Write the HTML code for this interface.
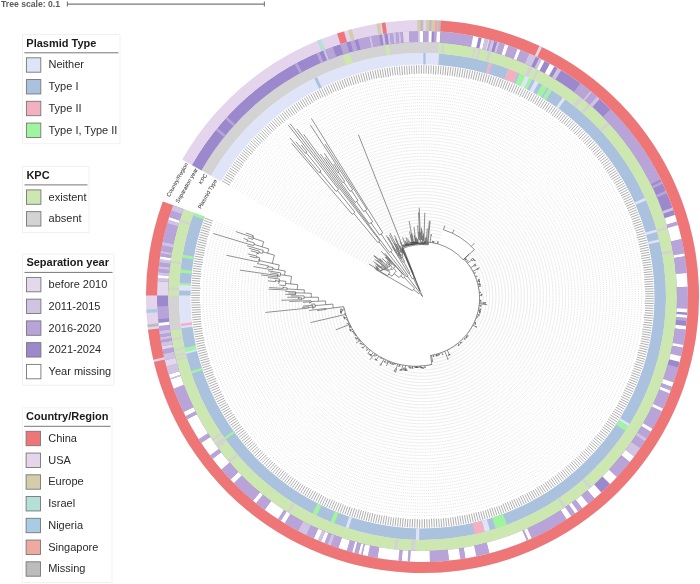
<!DOCTYPE html>
<html><head><meta charset="utf-8"><title>Phylogenetic tree</title>
<style>
html,body{margin:0;padding:0;background:#fff;}
body{width:700px;height:584px;overflow:hidden;}
svg{display:block;font-family:"Liberation Sans",Arial,sans-serif;}
.lt{font-size:11px;font-weight:bold;fill:#1a1a1a;}
.li{font-size:11px;fill:#2a2a2a;}
.ts{font-size:8.65px;font-weight:bold;fill:#5a5a5a;}
.ds{font-size:5.5px;fill:#222;}
</style></head><body>
<svg width="700" height="584" viewBox="0 0 700 584">
<text class="ts" x="1" y="6.9">Tree scale: 0.1</text>
<path d="M67.4 4.1H264.4M67.4 1.6V6.6M264.4 1.6V6.6M166 3.4V4.8" stroke="#7a7a7a" stroke-width="1.1" fill="none"/>
<defs><radialGradient id="dg" gradientUnits="userSpaceOnUse" cx="422.5" cy="296.5" r="221"><stop offset="0.25" stop-color="#e4e4e4"/><stop offset="0.55" stop-color="#d8d8d8"/><stop offset="1" stop-color="#cdcdcd"/></radialGradient></defs>
<path d="M373.09 267.97L231.12 185.98M370.67 265.83L232.3 183.96M365.57 261.99L233.51 181.94M374.02 266.4L234.74 179.94M374.35 265.89L235.99 177.94M372.02 263.65L237.26 175.97M380.28 268.39L238.55 174M375.35 264.37L239.87 172.05M373.09 262.06L241.2 170.12M370.88 259.69L242.56 168.2M381.52 266.62L243.93 166.29M379.3 264.29L245.33 164.4M382.16 265.75L246.74 162.52M372.49 257.53L248.18 160.66M375.39 258.98L249.63 158.82M383.16 264.48L251.1 156.98M371.32 253.93L252.6 155.17M371.78 253.39L254.11 153.37M377.03 257.01L255.64 151.59M377.45 256.52L257.19 149.82M384.92 262.44L258.76 148.07M387.61 264.19L260.35 146.34M381.05 257.29L261.96 144.62M386.03 261.25L263.58 142.92M386.4 260.87L265.22 141.24M384.55 258.24L266.88 139.58M387.17 260.11L268.56 137.93M383.19 255.14L270.26 136.3M383.63 254.72L271.97 134.69M379.81 249.62L273.7 133.1M384.53 253.91L275.45 131.53M382.9 251.12L277.21 129.97M290.75 142.22L278.99 128.44M288.34 135.96L280.78 126.92M294.07 139.45L282.59 125.42M299.7 143.04L284.42 123.94M295.16 126.52L290 119.63M302.59 132.84L291.89 118.23M319.11 152.19L293.79 116.85M324.29 156.3L295.71 115.49M322.2 150.03L297.64 114.15M332.58 162.14L299.59 112.83M309.73 124.05L301.55 111.54M323.52 141.56L303.52 110.26M310.07 116.31L305.51 109.01M391.16 245.07L307.51 107.77M385.23 233.84L309.52 106.56M385.9 233.44L311.55 105.37M395.94 249.61L313.59 104.2M394.91 246.55L315.64 103.05M387.93 232.31L317.7 101.93M393.03 240.36L319.78 100.82M389.3 231.59L321.87 99.74M395.65 242.59L323.96 98.68M398.99 248.01L326.07 97.65M394.09 236.3L328.19 96.63M393.41 233.12L330.32 95.64M397.96 241.49L332.47 94.67M401.07 247.05L334.62 93.73M400.37 243.91L336.78 92.8M398.53 237.81L338.95 91.9M357.14 131.45L341.13 91.02M402.06 243.23L343.32 90.17M402.62 243.01L345.52 89.34M403.19 242.81L347.73 88.53M403.77 242.6L349.94 87.75M401.31 233.39L352.17 86.99M404.92 242.22L354.4 86.25M404.55 239.01L356.64 85.54M405.16 238.82L358.89 84.85M406.66 241.68L361.14 84.19M405.55 235.41L363.4 83.55M407.83 241.36L365.67 82.93M406.85 235.06L367.95 82.34M409 241.06L370.23 81.77M408.88 237.83L372.51 81.23M410.19 240.78L374.81 80.71M410.13 237.55L377.1 80.21M408.9 228.1L379.41 79.74M410.21 231.07L381.72 79.3M408.7 218.46L384.03 78.87M411.61 230.83L386.34 78.48M413.76 240.11L388.67 78.11M414.36 240.02L390.99 77.76M414.13 233.66L393.32 77.44M413.64 224.13L395.65 77.14M415.47 233.49L397.98 76.86M416.14 233.42L400.32 76.62M417.09 236.51L402.66 76.39M417.73 236.46L405 76.19M417.5 223.76L407.35 76.02M418.64 230.04L409.69 75.87M418.45 211.01L412.04 75.75M419.13 204.63L414.39 75.65M420.76 229.95L416.74 75.58M421.37 223.6L419.09 75.53M422.17 226.76L421.44 75.5M422.87 233.1L423.79 75.5M423.6 229.94L426.14 75.53M424.82 210.94L428.49 75.58M424.65 239.48L430.84 75.66M425.41 236.34L433.19 75.76M426.24 233.21L435.54 75.88M427.35 226.93L437.88 76.04M427.33 236.46L440.22 76.21M429.7 217.58L442.57 76.41M430.53 217.66L444.91 76.64M428.89 239.8L447.24 76.89M429.49 239.87L449.58 77.17M431.36 230.52L451.91 77.47M432.06 230.62L454.24 77.79M431.29 240.12L456.56 78.14M431.89 240.22L458.88 78.52M433.05 237.2L461.2 78.91M433.68 237.32L463.51 79.34M434.31 237.44L465.82 79.79M434.93 237.57L468.12 80.26M434.87 240.8L470.42 80.76M435.46 240.93L472.71 81.28M436.05 241.07L475 81.83M436.64 241.22L477.28 82.4M437.23 241.37L479.55 82.99M438.67 238.48L481.82 83.61M439.28 238.66L484.08 84.25M438.98 241.87L486.33 84.92M445.25 223.9L488.58 85.61M445.04 227.16L490.82 86.32M445.77 227.4L493.05 87.06M446.51 227.66L495.27 87.83M447.24 227.92L497.49 88.61M447.97 228.18L499.69 89.42M448.69 228.46L501.89 90.25M449.41 228.74L504.08 91.11M450.13 229.03L506.26 91.99M450.85 229.33L508.43 92.89M451.56 229.63L510.59 93.82M452.27 229.95L512.74 94.76M452.98 230.27L514.88 95.74M455.04 227.73L517.01 96.73M454.38 230.93L519.13 97.75M455.08 231.27L521.24 98.79M455.77 231.62L523.34 99.85M456.46 231.98L525.42 100.93M457.14 232.34L527.5 102.04M457.82 232.72L529.56 103.16M458.5 233.1L531.61 104.31M459.17 233.48L533.65 105.48M459.84 233.88L535.67 106.68M460.5 234.28L537.69 107.89M461.16 234.68L539.69 109.13M461.82 235.1L541.67 110.38M462.47 235.52L543.65 111.66M463.11 235.95L545.6 112.96M463.76 236.38L547.55 114.28M464.39 236.83L549.48 115.62M465.02 237.28L551.4 116.98M465.65 237.73L553.3 118.36M466.27 238.19L555.19 119.76M466.89 238.66L557.06 121.19M467.5 239.14L558.92 122.63M468.11 239.62L560.76 124.09M468.71 240.11L562.58 125.57M469.31 240.6L564.39 127.07M469.9 241.1L566.19 128.59M470.49 241.61L567.96 130.12M471.07 242.12L569.73 131.68M471.65 242.64L571.47 133.26M472.22 243.17L573.2 134.85M472.78 243.7L574.91 136.46M475.55 241.97L576.6 138.09M473.89 244.78L578.28 139.74M474.44 245.33L579.94 141.4M474.98 245.89L581.58 143.09M475.52 246.45L583.2 144.79M476.05 247.02L584.81 146.51M471.87 251.84L586.39 148.24M467.59 256.57L587.96 149.99M468.02 257.05L589.51 151.76M468.43 257.54L591.04 153.55M468.84 258.03L592.55 155.35M469.25 258.53L594.04 157.16M469.65 259.03L595.51 158.99M470.05 259.53L596.97 160.84M475.48 256.2L598.4 162.71M475.91 256.76L599.81 164.58M476.33 257.33L601.2 166.48M476.74 257.91L602.58 168.39M477.15 258.49L603.93 170.31M477.55 259.07L605.26 172.24M472.67 263.17L606.57 174.2M473.02 263.7L607.86 176.16M473.36 264.24L609.13 178.14M479.09 261.45L610.38 180.13M479.46 262.05L611.61 182.13M477.1 264.27L612.81 184.15M480.18 263.27L614 186.18M475.01 266.99L615.16 188.23M475.32 267.55L616.3 190.28M475.62 268.12L617.42 192.35M475.92 268.68L618.52 194.43M481.87 266.38L619.59 196.52M482.18 267.02L620.64 198.62M476.78 270.4L621.67 200.73M477.06 270.98L622.68 202.86M477.32 271.56L623.66 204.99M477.59 272.15L624.63 207.14M477.84 272.73L625.57 209.29M478.09 273.32L626.48 211.45M478.34 273.91L627.37 213.63M478.57 274.51L628.24 215.81M478.8 275.11L629.09 218.01M479.03 275.71L629.91 220.21M479.25 276.31L630.71 222.42M479.46 276.91L631.49 224.64M479.66 277.52L632.24 226.86M479.86 278.13L632.97 229.1M483.08 277.81L633.68 231.34M483.28 278.45L634.36 233.59M483.47 279.1L635.01 235.85M483.65 279.75L635.65 238.11M483.82 280.4L636.26 240.38M483.99 281.05L636.84 242.66M481.07 282.45L637.4 244.94M484.3 282.37L637.94 247.23M484.45 283.02L638.45 249.52M484.59 283.68L638.94 251.82M484.72 284.34L639.4 254.13M481.73 285.58L639.84 256.44M481.84 286.21L640.25 258.75M481.95 286.84L640.64 261.07M482.05 287.48L641.01 263.39M482.14 288.11L641.35 265.72M482.23 288.74L641.66 268.04M482.31 289.38L641.95 270.38M482.38 290.02L642.22 272.71M482.45 290.65L642.46 275.05M482.5 291.29L642.67 277.39M482.56 291.93L642.86 279.73M482.6 292.57L643.03 282.08M482.64 293.21L643.17 284.43M485.84 293.71L643.29 286.77M485.86 294.38L643.38 289.12M485.88 295.06L643.44 291.47M485.9 295.73L643.48 293.82M482.73 296.41L643.5 296.17M482.73 297.05L643.49 298.52M482.72 297.69L643.46 300.87M482.7 298.33L643.4 303.22M482.68 298.97L643.31 305.57M482.65 299.61L643.2 307.92M482.61 300.25L643.07 310.27M482.57 300.89L642.91 312.61M482.52 301.53L642.73 314.95M488.77 302.76L642.52 317.3M488.7 303.47L642.29 319.63M488.63 304.17L642.03 321.97M488.54 304.88L641.74 324.3M482.17 304.71L641.44 326.63M485.21 305.81L641.1 328.96M485.11 306.48L640.75 331.28M485 307.14L640.36 333.6M481.76 307.24L639.96 335.92M481.65 307.87L639.52 338.23M481.52 308.5L639.07 340.54M484.49 309.79L638.59 342.84M484.35 310.45L638.08 345.13M484.19 311.11L637.55 347.42M484.04 311.76L637 349.71M483.87 312.42L636.42 351.98M483.7 313.07L635.82 354.26M483.52 313.72L635.19 356.52M483.33 314.37L634.54 358.78M480.11 314.09L633.87 361.03M482.94 315.66L633.17 363.28M482.73 316.3L632.45 365.51M482.52 316.94L631.7 367.74M479.3 316.52L630.93 369.96M482.07 318.21L630.14 372.18M481.83 318.84L629.32 374.38M478.64 318.32L628.48 376.58M478.4 318.92L627.62 378.76M478.16 319.51L626.73 380.94M477.91 320.1L625.82 383.11M477.66 320.69L624.89 385.26M477.4 321.28L623.94 387.41M477.13 321.86L622.96 389.55M476.86 322.44L621.96 391.68M479.43 324.41L620.93 393.79M479.13 325.01L619.89 395.9M478.82 325.62L618.82 397.99M478.51 326.21L617.73 400.07M475.4 325.29L616.61 402.14M480.63 328.94L615.48 404.2M480.28 329.56L614.32 406.25M474.46 326.96L613.15 408.28M474.13 327.52L611.95 410.3M473.8 328.06L610.72 412.31M473.46 328.61L609.48 414.31M473.11 329.15L608.22 416.29M472.76 329.68L606.93 418.26M472.41 330.22L605.63 420.21M472.05 330.74L604.3 422.15M471.68 331.27L602.96 424.08M471.31 331.79L601.59 425.99M470.93 332.31L600.2 427.89M470.55 332.82L598.79 429.77M470.16 333.33L597.37 431.64M469.76 333.83L595.92 433.49M469.36 334.34L594.45 435.33M468.96 334.83L592.97 437.15M468.55 335.32L591.46 438.95M470.53 337.88L589.94 440.74M470.09 338.39L588.39 442.52M469.64 338.89L586.83 444.27M469.19 339.39L585.25 446.01M468.73 339.89L583.65 447.73M468.27 340.37L582.03 449.44M467.8 340.86L580.4 451.13M467.32 341.34L578.74 452.8M466.84 341.81L577.07 454.45M464.17 339.99L575.38 456.09M463.7 340.43L573.68 457.7M463.23 340.87L571.95 459.3M462.76 341.3L570.21 460.88M462.28 341.73L568.46 462.44M463.86 344.55L566.68 463.99M463.35 344.99L564.9 465.51M462.83 345.42L563.09 467.02M462.31 345.84L561.27 468.5M459.82 343.78L559.43 469.97M461.25 346.68L557.58 471.41M460.72 347.09L555.71 472.84M460.17 347.49L553.83 474.25M459.63 347.89L551.93 475.63M459.08 348.28L550.02 477M458.53 348.67L548.09 478.35M456.2 346.42L546.15 479.67M455.67 346.78L544.19 480.98M456.85 349.79L542.22 482.26M454.59 347.47L540.24 483.52M454.04 347.81L538.25 484.77M455.13 350.86L536.24 485.99M454.55 351.2L534.22 487.18M453.97 351.54L532.18 488.36M451.83 349.1L530.13 489.52M452.79 352.2L528.08 490.65M452.19 352.52L526 491.76M451.6 352.83L523.92 492.85M451 353.14L521.83 493.92M450.39 353.44L519.72 494.97M451.15 356.59L517.61 495.99M450.51 356.89L515.48 496.99M449.86 357.19L513.34 497.97M449.22 357.47L511.19 498.92M447.33 354.84L509.04 499.85M449.12 360.96L506.87 500.76M448.44 361.24L504.69 501.65M445.45 355.6L502.5 502.51M444.82 355.84L500.31 503.35M444.19 356.07L498.1 504.17M443.55 356.3L495.89 504.96M442.92 356.52L493.67 505.73M442.28 356.74L491.44 506.47M441.64 356.94L489.2 507.19M440.99 357.14L486.96 507.89M440.35 357.34L484.71 508.56M439.7 357.52L482.45 509.21M439.05 357.7L480.18 509.84M438.4 357.87L477.91 510.44M437.74 358.04L475.63 511.02M437.09 358.2L473.35 511.57M436.43 358.35L471.06 512.1M435.77 358.5L468.76 512.6M435.11 358.63L466.46 513.08M434.45 358.76L464.15 513.54M433.79 358.89L461.84 513.97M433.12 359L459.53 514.38M433.45 365.37L457.21 514.76M432.72 365.49L454.89 515.11M432.42 368.73L452.56 515.45M431.65 368.83L450.23 515.75M430.88 368.93L447.9 516.04M430.11 369.01L445.56 516.29M429.34 369.09L443.22 516.53M428.56 369.16L440.88 516.73M427.79 369.22L438.54 516.92M427.02 369.27L436.19 517.08M426.24 369.31L433.84 517.21M425.47 369.35L431.5 517.32M424.69 369.38L429.15 517.4M423.98 372.57L426.8 517.46M423.17 372.58L424.45 517.49M422.36 372.58L422.1 517.5M421.55 372.57L419.75 517.48M420.74 372.56L417.39 517.44M420.04 369.37L415.05 517.37M419.27 369.34L412.7 517.28M418.49 369.3L410.35 517.17M417.51 372.42L408 517.02M416.7 372.36L405.66 516.86M415.9 372.29L403.32 516.67M415.09 372.22L400.97 516.45M414.63 368.98L398.64 516.21M413.86 368.9L396.3 515.94M412.68 371.94L393.97 515.65M411.88 371.83L391.64 515.33M411.08 371.72L389.31 514.99M410.28 371.59L386.99 514.63M409.48 371.46L384.67 514.24M408.68 371.31L382.36 513.82M407.89 371.16L380.05 513.39M406.45 374.11L377.75 512.92M405.63 373.93L375.45 512.43M404.8 373.75L373.15 511.92M403.98 373.56L370.87 511.38M403.17 373.36L368.58 510.82M402.35 373.15L366.31 510.24M401.54 372.93L364.04 509.63M400.72 372.7L361.77 508.99M399.91 372.46L359.52 508.34M399.11 372.22L357.27 507.65M399.27 368.95L355.03 506.95M398.5 368.7L352.79 506.22M397.74 368.44L350.56 505.46M394.84 374.14L348.35 504.69M394.02 373.84L346.14 503.89M393.2 373.54L343.93 503.06M394.7 367.32L341.74 502.22M393.95 367.02L339.56 501.35M393.2 366.71L337.38 500.45M392.45 366.4L335.22 499.53M391.71 366.07L333.07 498.6M390.97 365.74L330.92 497.63M390.24 365.4L328.79 496.65M389.51 365.05L326.66 495.64M388.78 364.7L324.55 494.61M388.06 364.34L322.45 493.56M384.41 369.59L320.36 492.48M385.13 366.38L318.28 491.38M385.91 363.2L316.21 490.26M383.65 365.57L314.16 489.12M382.92 365.16L312.12 487.96M382.19 364.73L310.09 486.77M379.82 367.01L308.07 485.57M379.08 366.55L306.07 484.34M381.73 360.73L304.07 483.09M381.05 360.3L302.1 481.82M378.62 362.49L300.13 480.53M379.7 359.4L298.18 479.22M379.04 358.94L296.25 477.89M374.7 363.64L294.32 476.53M373.99 363.13L292.42 475.16M373.28 362.61L290.52 473.77M372.58 362.08L288.64 472.35M373.83 359.05L286.78 470.92M373.17 358.52L284.93 469.46M372.51 358L283.1 467.99M367.81 362.34L281.29 466.5M369.16 359.34L279.49 464.99M368.5 358.77L277.7 463.46M367.84 358.19L275.94 461.91M367.19 357.6L274.18 460.34M366.54 357.01L272.45 458.75M365.9 356.41L270.73 457.15M365.27 355.81L269.03 455.52M366.86 352.94L267.35 453.88M366.27 352.34L265.69 452.22M363.4 353.95L264.04 450.55M362.8 353.32L262.41 448.85M364.51 350.52L260.8 447.14M363.94 349.9L259.2 445.41M363.38 349.27L257.63 443.67M360.43 350.73L256.07 441.91M359.86 350.07L254.54 440.13M359.29 349.4L253.02 438.33M361.19 346.71L251.52 436.52M360.66 346.06L250.04 434.7M360.13 345.4L248.58 432.86M357.1 346.66L247.14 431M356.57 345.96L245.72 429.13M358.6 343.38L244.32 427.24M358.11 342.7L242.94 425.34M355.03 343.83L241.58 423.42M357.14 341.32L240.24 421.49M356.67 340.62L238.92 419.54M353.55 341.66L237.62 417.58M353.07 340.92L236.34 415.61M352.61 340.18L235.09 413.62M352.15 339.43L233.85 411.62M354.42 337.06L232.64 409.61M353.99 336.33L231.45 407.58M350.81 337.17L230.28 405.55M350.38 336.4L229.13 403.49M349.96 335.63L228 401.43M349.55 334.86L226.89 399.36M349.15 334.08L225.81 397.27M348.75 333.3L224.75 395.17M348.36 332.51L223.71 393.06M347.99 331.72L222.7 390.94M347.61 330.93L221.7 388.81M347.25 330.13L220.73 386.67M346.9 329.33L219.79 384.52M346.55 328.52L218.86 382.36M346.22 327.71L217.96 380.19M345.89 326.9L217.08 378.01M333.74 330.63L216.23 375.82M345.26 325.26L215.39 373.62M344.96 324.44L214.59 371.42M344.67 323.61L213.8 369.2M344.38 322.78L213.04 366.98M344.11 321.95L212.3 364.74M343.84 321.12L211.59 362.51M343.58 320.28L210.9 360.26M340.29 320.32L210.23 358M340.04 319.44L209.59 355.74M339.8 318.57L208.97 353.48M339.57 317.68L208.38 351.2M342.43 316.05L207.81 348.92M308.27 323.11L207.26 346.63M342.03 314.34L206.74 344.34M338.75 314.14L206.24 342.04M338.56 313.25L205.77 339.74M338.39 312.35L205.32 337.43M338.23 311.46L204.9 335.12M338.07 310.56L204.5 332.81M337.93 309.66L204.13 330.49M340.93 308.31L203.78 328.16M315.67 310.81L203.46 325.83M306.09 310.83L203.16 323.5M309.09 309.24L202.88 321.17M261.66 312.84L202.63 318.83M299.38 307.68L202.41 316.49M299.26 306.37L202.21 314.15M308.65 304.4L202.03 311.8M305.41 303.38L201.88 309.46M299.01 302.44L201.75 307.11M286.29 301.6L201.65 304.76M279.9 300.32L201.58 302.41M295.72 298.54L201.53 300.06M283.02 297.27L201.5 297.71M289.36 295.82L201.5 295.36M283.04 294.3L201.53 293.01M286.24 292.9L201.58 290.66M283.12 291.33L201.65 288.31M267.35 289.1L201.75 285.96M267.43 287.45L201.88 283.62M280.19 286.67L202.03 281.27M277.14 284.91L202.2 278.93M274.12 283.07L202.4 276.59M264.81 280.54L202.62 274.25M271.28 279.57L202.87 271.91M265.18 277.19L203.15 269.57M259.11 274.68L203.45 267.24M237.39 269.77L203.77 264.91M269.01 272.67L204.12 262.59M266.14 270.52L204.49 260.27M250.82 266.09L204.89 257.95M263.62 266.61L205.31 255.64M254.62 263.06L205.76 253.33M223.96 254.76L206.23 251.03M255.37 259.5L206.72 248.73M246.51 255.57L207.24 246.44M243.87 252.95L207.79 244.15M253.56 253.4L208.36 241.87M247.9 249.98L208.95 239.6M245.35 247.27L209.57 237.33M242.84 244.51L210.21 235.07M243.99 240.7L211.56 230.57M241.58 237.83L212.28 228.33M245.21 236.92L213.01 226.1M233.88 230.87L213.77 223.87M243.54 232.09L214.56 221.66" stroke="url(#dg)" stroke-width="0.6" stroke-dasharray="1 2.17" fill="none"/>
<path d="M412.54 290.75L375.61 269.42M387.55 275.82L374.24 267.94M378.19 269.64L368.94 264.03M378.06 268.91L376.3 267.82M377.41 267.84L375.96 266.92M377.72 267.36L375.08 265.65M377.41 267.84A53.43 53.43 0 0 1 377.72 267.36M378.51 268.2L377.56 267.6M378.06 268.91A52.31 52.31 0 0 1 378.51 268.2M378.7 268.82L378.28 268.56M378.19 269.64A51.81 51.81 0 0 1 378.7 268.82M381.28 270.98L378.45 269.23M382.15 269.63L381.45 269.16M381.28 270.98A48.48 48.48 0 0 1 382.15 269.63M382.01 270.5L381.71 270.3M380.71 268.03L376.87 265.41M381.02 267.58L375.46 263.71M380.71 268.03A50.57 50.57 0 0 1 381.02 267.58M382.88 269.19L380.87 267.8M382.01 270.5A48.12 48.12 0 0 1 382.88 269.19M382.9 270.15L382.44 269.84M383.77 268.88L373.42 261.51M382.9 270.15A47.57 47.57 0 0 1 383.77 268.88M384.08 270.03L383.33 269.51M384.8 269.01L383.96 268.4M384.08 270.03A46.66 46.66 0 0 1 384.8 269.01M385.37 270.18L384.43 269.52M386.02 269.3L381.24 265.74M385.37 270.18A45.51 45.51 0 0 1 386.02 269.3M387.54 271.08L385.69 269.74M388.12 270.3L384.62 267.62M387.54 271.08A43.22 43.22 0 0 1 388.12 270.3M389.93 272.25L387.83 270.69M387.55 275.82A40.61 40.61 0 0 1 389.93 272.25M392.09 276.27L388.69 274M385.54 267.7L374.72 259.27M385.84 267.31L376.75 260.07M385.54 267.7A46.86 46.86 0 0 1 385.84 267.31M389.41 270.43L385.69 267.5M387.24 267.8L386.24 266.98M386.31 266.4L373.54 255.78M380.63 260.91L374.22 255.46M381.01 260.47L378.88 258.62M380.63 260.91A54.95 54.95 0 0 1 381.01 260.47M382.18 261.86L380.82 260.69M382.74 261.22L379.8 258.62M382.18 261.86A53.16 53.16 0 0 1 382.74 261.22M386.42 265L382.46 261.54M387.01 264.33L386.32 263.7M386.42 265A47.9 47.9 0 0 1 387.01 264.33M387.33 265.21L386.71 264.66M386.31 266.4A47.07 47.07 0 0 1 387.33 265.21M388.04 266.85L386.82 265.8M387.24 267.8A45.46 45.46 0 0 1 388.04 266.85M388.02 267.64L387.64 267.32M388.94 265.42L388.5 265.01M388.81 264.63L382.17 258.35M389.15 264.27L388.65 263.79M388.81 264.63A46.37 46.37 0 0 1 389.15 264.27M389.1 264.56L388.98 264.45M388.6 263.03L387.33 261.78M388.95 262.67L387.04 260.75M388.6 263.03A47.64 47.64 0 0 1 388.95 262.67M389.66 263.74L388.78 262.85M390.19 263.22L389.77 262.79M389.66 263.74A46.38 46.38 0 0 1 390.19 263.22M390.05 263.6L389.93 263.48M389.1 264.56A46.21 46.21 0 0 1 390.05 263.6M389.9 264.41L389.57 264.08M388.94 265.42A45.74 45.74 0 0 1 389.9 264.41M389.98 265.44L389.42 264.91M388.02 267.64A44.97 44.97 0 0 1 389.98 265.44M389.37 266.87L388.98 266.53M391.88 264.28L385.06 257.1M389.37 266.87A44.45 44.45 0 0 1 391.88 264.28M392.26 267.17L390.6 265.55M389.41 270.43A42.12 42.12 0 0 1 392.26 267.17M392.04 269.85L390.8 268.76M390.27 261.86L385.77 257.02M390.64 261.52L381.32 251.28M390.27 261.86A47.31 47.31 0 0 1 390.64 261.52M395.09 266.72L390.46 261.69M392.04 269.85A40.48 40.48 0 0 1 395.09 266.72M396.35 271L393.52 268.24M392.09 276.27A36.52 36.52 0 0 1 396.35 271M399.11 277.58L394.1 273.54M402.48 274.04L385.67 255.19M399.11 277.58A30.08 30.08 0 0 1 402.48 274.04M403.34 278.24L400.72 275.75M405.1 276.56L384.68 253.15M403.34 278.24A26.47 26.47 0 0 1 405.1 276.56M414.55 288.19L404.2 277.38M412.54 290.75A11.5 11.5 0 0 1 414.55 288.19M419.35 294.03L413.46 289.4M305.38 153.29A185 185 0 0 1 306.91 152.05M305.38 153.29L295.83 141.61M306.91 152.05L301.18 144.89M319.03 172.69A161.36 161.36 0 0 1 321.02 171.05M319.03 172.69L289.85 137.77M321.02 171.05L306.15 152.67M336.09 191.41A136.05 136.05 0 0 1 338.63 189.37M338.63 189.37L288.16 124.91M336.09 191.41L320.02 171.86M352.41 214.42A107.94 107.94 0 0 1 354.95 212.31M352.41 214.42L291.66 143.27M354.95 212.31L337.36 190.39M377.86 242.58A70 70 0 0 1 379.94 240.93M379.94 240.93L290.03 123.54M377.86 242.58L353.67 213.36M337.75 172.73A150 150 0 0 1 339.07 171.84M337.75 172.73L324.31 153.11M339.07 171.84L333.75 163.89M342.77 182.67A138.98 138.98 0 0 1 344.59 181.41M342.77 182.67L325.01 157.32M344.59 181.41L338.41 172.29M350.14 191.42A127.58 127.58 0 0 1 352.67 189.72M352.67 189.72L310.41 125.09M350.14 191.42L343.68 182.04M355.11 202.44A115.71 115.71 0 0 1 358.01 200.42M355.11 202.44L320.29 153.84M358.01 200.42L351.4 190.57M363.67 211.67A103.23 103.23 0 0 1 366.92 209.5M366.92 209.5L325.04 143.95M363.67 211.67L356.55 201.42M369.38 224A89.87 89.87 0 0 1 372.69 221.69M369.38 224L303.7 134.36M372.69 221.69L365.28 210.57M379.53 235A75.03 75.03 0 0 1 382.78 232.85M382.78 232.85L311.32 118.31M379.53 235L371.02 222.83M389.52 252.48A55 55 0 0 1 392.18 250.61M389.52 252.48L296.82 128.74M392.18 250.61L381.14 233.9M406.93 276.94A25 25 0 0 1 408.11 276.06M406.93 276.94L378.89 241.74M408.11 276.06L390.84 251.53M422.5 296.5L407.51 276.49M408.37 273.31L392.06 246.54M396.38 252.58L386.16 235.41M396.84 252.3L388.04 237.14M396.38 252.58A51.1 51.1 0 0 1 396.84 252.3M398.54 255.73L396.61 252.44M399.2 255.36L397.85 252.98M398.54 255.73A47.28 47.28 0 0 1 399.2 255.36M400.79 258.88L398.87 255.54M401.5 258.48L396.09 248.7M400.79 258.88A43.44 43.44 0 0 1 401.5 258.48M403.14 262.21L401.14 258.68M401.53 257.57L389.29 234.85M400.92 255.38L394.45 243.07M398.42 249.43L389.91 232.78M398.93 249.17L396.31 243.92M398.42 249.43A52.87 52.87 0 0 1 398.93 249.17M399.85 251.63L398.67 249.3M400.57 251.27L399.98 250.06M399.85 251.63A50.26 50.26 0 0 1 400.57 251.27M400.58 252.2L400.21 251.45M401.41 251.8L395.25 238.76M400.58 252.2A49.42 49.42 0 0 1 401.41 251.8M401.33 252.69L400.99 252M402.21 252.28L394.5 235.49M401.33 252.69A48.65 48.65 0 0 1 402.21 252.28M402.07 253.13L401.77 252.48M402.97 252.72L399.71 245.42M402.07 253.13A47.94 47.94 0 0 1 402.97 252.72M403.15 254.29L402.52 252.92M400.92 255.38A46.44 46.44 0 0 1 403.15 254.29M403 256.81L402.02 254.82M401.53 257.57A44.22 44.22 0 0 1 403 256.81M404.48 261.49L402.26 257.18M403.14 262.21A39.37 39.37 0 0 1 404.48 261.49M409.61 272.6L403.81 261.85M408.37 273.31A27.15 27.15 0 0 1 409.61 272.6M412.38 278.87L408.99 272.95M414.42 277.85L401.85 248.86M412.38 278.87A20.33 20.33 0 0 1 414.42 277.85M419.81 291.14L413.38 278.33M415.55 279.99L401.82 247.35M413.01 273.27L399.95 241.29M413.26 273.17L358.44 134.72M413.01 273.27A25.09 25.09 0 0 1 413.26 273.17M415.81 279.88L413.14 273.22M415.55 279.99A17.92 17.92 0 0 1 415.81 279.88M420.22 290.95L415.68 279.93M403.44 246.83L402.74 245M403.89 246.42L403.09 244.26M404.23 245.67L403.85 244.63M404.61 245.03L404.41 244.46M405.08 244.61L402.57 237.13M405.63 244.43L405.44 243.82M405.08 244.61A54.74 54.74 0 0 1 405.63 244.43M405.43 244.75L405.36 244.52M404.61 245.03A54.49 54.49 0 0 1 405.43 244.75M405.07 245.03L405.02 244.89M406.23 244.38L404.99 240.42M406.72 244.01L405.98 241.53M407.26 243.76L407.09 243.18M407.82 243.6L406.07 237.31M407.26 243.76A54.9 54.9 0 0 1 407.82 243.6M407.56 243.76L407.54 243.68M406.72 244.01A54.81 54.81 0 0 1 407.56 243.76M407.2 244.08L407.14 243.88M406.23 244.38A54.6 54.6 0 0 1 407.2 244.08M406.79 244.48L406.71 244.23M405.07 245.03A54.34 54.34 0 0 1 406.79 244.48M405.97 244.88L405.93 244.75M408.56 244.12L408.3 243.15M405.97 244.88A54.2 54.2 0 0 1 408.56 244.12M407.31 244.67L407.26 244.49M404.23 245.67A54.01 54.01 0 0 1 407.31 244.67M405.85 245.43L405.76 245.15M409.24 244.44L407.7 238.38M405.85 245.43A53.72 53.72 0 0 1 409.24 244.44M407.58 245.07L407.54 244.91M409.7 243.93L409.45 242.9M410.11 243.13L409.58 240.86M410.59 242.61L410.46 242.02M411.16 242.49L411.02 241.82M410.59 242.61A55.19 55.19 0 0 1 411.16 242.49M410.9 242.68L410.88 242.55M411.76 242.5L409.57 231.46M410.9 242.68A55.06 55.06 0 0 1 411.76 242.5M411.37 242.74L411.33 242.58M412 240.58L410.92 234.83M412.59 240.47L409.15 221M412 240.58A56.9 56.9 0 0 1 412.59 240.47M412.64 242.43L412.3 240.52M413.5 242.24L412.07 233.6M414.08 242.15L413.99 241.56M413.5 242.24A55 55 0 0 1 414.08 242.15M412.64 242.43A54.96 54.96 0 0 1 413.8 242.23M413.23 242.39L413.22 242.33M411.37 242.74A54.9 54.9 0 0 1 413.23 242.39M412.31 242.65L412.3 242.56M414.66 242.1L414.58 241.51M415.12 241.09L414.29 234.88M415.71 241.02L414 227.04M415.12 241.09A55.9 55.9 0 0 1 415.71 241.02M415.53 241.99L415.41 241.05M414.66 242.1A54.96 54.96 0 0 1 415.53 241.99M415.12 242.19L415.1 242.04M412.31 242.65A54.81 54.81 0 0 1 415.12 242.19M410.11 243.13A54.79 54.79 0 0 1 413.72 242.42M411.93 242.88L411.91 242.75M416.44 242.18L415.95 237.79M411.93 242.88A54.65 54.65 0 0 1 416.44 242.18M414.21 242.66L414.18 242.48M417.03 242.3L416.55 237.46M414.21 242.66A54.47 54.47 0 0 1 417.03 242.3M415.63 242.6L415.62 242.46M417.62 242.38L417.34 239.27M415.63 242.6A54.34 54.34 0 0 1 417.62 242.38M416.64 242.59L416.63 242.48M418.21 242.45L417.92 238.87M416.64 242.59A54.22 54.22 0 0 1 418.21 242.45M417.43 242.64L417.42 242.51M409.7 243.93A54.1 54.1 0 0 1 417.43 242.64M413.59 243.39L413.55 243.14M418.54 238.83L417.61 225.28M419.07 237.35L418.74 231.71M419.7 237.32L418.51 212.33M419.07 237.35A59.25 59.25 0 0 1 419.7 237.32M419.46 238.78L419.38 237.33M418.54 238.83A57.81 57.81 0 0 1 419.46 238.78M419.04 239.48L419 238.8M420.4 239.41L419.24 207.66M419.04 239.48A57.13 57.13 0 0 1 420.4 239.41M419.76 240.25L419.72 239.44M421.03 240.2L420.82 232.18M419.76 240.25A56.31 56.31 0 0 1 421.03 240.2M420.46 241.97L420.4 240.23M421.62 239.38L421.44 227.66M422.23 239.38L422.18 230.38M421.62 239.38A57.12 57.12 0 0 1 422.23 239.38M421.93 239.9L421.92 239.38M422.83 239.9L422.86 235.54M421.93 239.9A56.6 56.6 0 0 1 422.83 239.9M422.38 240.77L422.38 239.9M423.42 240.78L423.54 233.37M422.38 240.77A55.73 55.73 0 0 1 423.42 240.78M422.89 241.94L422.9 240.77M420.46 241.97A54.56 54.56 0 0 1 422.89 241.94M421.68 242.52L421.68 241.94M423.97 242.19L424.77 212.68M424.56 241.92L424.58 241.32M425.14 241.94L425.34 237.81M424.56 241.92A54.62 54.62 0 0 1 425.14 241.94M424.84 242.11L424.85 241.93M425.71 242.15L426.01 237.08M424.84 242.11A54.44 54.44 0 0 1 425.71 242.15M425.27 242.24L425.28 242.13M423.97 242.19A54.33 54.33 0 0 1 425.27 242.24M424.61 242.45L424.62 242.21M426.26 242.54L427.26 228.3M424.61 242.45A54.09 54.09 0 0 1 426.26 242.54M425.43 242.59L425.44 242.49M421.68 242.52A53.99 53.99 0 0 1 425.43 242.59M423.56 242.66L423.56 242.52M413.59 243.39A53.85 53.85 0 0 1 423.56 242.66M418.58 243.09L418.56 242.8M407.58 245.07A53.55 53.55 0 0 1 418.58 243.09M413.05 243.91L413.03 243.79M403.89 246.42A53.43 53.43 0 0 1 413.05 243.91M408.44 245.06L408.41 244.96M426.78 243.34L426.98 240.81M408.44 245.06A53.33 53.33 0 0 1 426.78 243.34M417.55 243.53L417.53 243.4M403.44 246.83A53.2 53.2 0 0 1 417.55 243.53M410.45 244.99L410.38 244.7M427.3 243.81L429.41 220.7M410.45 244.99A52.9 52.9 0 0 1 427.3 243.81M418.84 243.86L418.83 243.72M427.85 244.01L430.2 220.92M418.84 243.86A52.76 52.76 0 0 1 427.85 244.01M423.33 244.51L423.35 243.74M428.6 242.33L428.66 241.84M429.18 242.38L429.2 242.2M430.72 235.26L430.86 234.27M431.37 235.36L431.53 234.25M430.72 235.26A61.78 61.78 0 0 1 431.37 235.36M430.05 242.47L431.05 235.31M430.91 242.57L430.98 242.12M431.49 242.64L431.52 242.46M432.27 241.57L432.41 240.79M432.85 241.67L432.97 241.08M432.27 241.57A55.8 55.8 0 0 1 432.85 241.67M432.5 241.96L432.56 241.62M433.42 241.88L433.55 241.22M434 241.99L434.12 241.41M433.42 241.88A55.71 55.71 0 0 1 434 241.99M433.66 242.18L433.71 241.93M432.5 241.96A55.45 55.45 0 0 1 433.66 242.18M432.93 242.85L433.08 242.06M434.36 243.1L434.4 242.92M434.93 243.22L435.03 242.81M435.5 243.33L435.59 242.98M436.07 243.46L436.15 243.13M436.64 243.59L436.7 243.37M437.56 242.47L437.93 241.13M438.13 242.63L438.38 241.76M437.56 242.47A56.09 56.09 0 0 1 438.13 242.63M437.49 243.79L437.84 242.55M438.34 244.01L438.43 243.71M443.43 229.7L444.75 225.5M452.44 233.22L454.08 229.75M471.31 246.33L474.37 243.18M443.43 229.7A70 70 0 0 1 474.4 249.53M463.5 259.4L474.4 249.53M463.85 259.09L469.23 254.23M465.03 258.84L465.6 258.34M465.86 258.92L466.31 258.53M466.26 259.39L466.71 259M465.86 258.92A57.38 57.38 0 0 1 466.26 259.39M465.79 259.38L466.06 259.15M466.38 260.08L466.84 259.7M465.79 259.38A57.02 57.02 0 0 1 466.38 260.08M465.92 259.87L466.08 259.73M465.03 258.84A56.8 56.8 0 0 1 465.92 259.87M464.72 260.01L465.47 259.36M465.85 261.29L466.14 261.06M467.41 260.8L467.9 260.42M467.79 261.28L468.46 260.76M467.41 260.8A57.37 57.37 0 0 1 467.79 261.28M466.43 261.96L467.6 261.04M471.22 259.44L472.95 258.13M473.13 258.83L473.61 258.47M473.53 259.37L474.01 259.02M473.13 258.83A63.11 63.11 0 0 1 473.53 259.37M473.1 259.27L473.33 259.1M474 259.86L474.49 259.51M474.71 260.19L475.2 259.84M475.09 260.74L475.59 260.41M474.71 260.19A63.6 63.6 0 0 1 475.09 260.74M474.58 260.69L474.9 260.46M474 259.86A63.2 63.2 0 0 1 474.58 260.69M473.97 260.49L474.29 260.27M473.1 259.27A62.82 62.82 0 0 1 473.97 260.49M472.24 260.81L473.54 259.88M471.22 259.44A61.22 61.22 0 0 1 472.24 260.81M467.5 263.25L471.74 260.12M469.16 265.5L469.3 265.4M469.5 265.99L469.9 265.73M469.84 266.48L470.05 266.34M474.88 264.05L475.39 263.74M475.23 264.61L475.74 264.3M474.88 264.05A61.62 61.62 0 0 1 475.23 264.61M473.89 265.04L475.06 264.33M475.25 265.36L475.76 265.06M475.57 265.93L476.52 265.38M475.25 265.36A61.25 61.25 0 0 1 475.57 265.93M474.55 266.14L475.41 265.64M473.89 265.04A60.26 60.26 0 0 1 474.55 266.14M470.66 267.72L474.23 265.59M471.45 268.99L471.71 268.84M471.75 269.51L472.02 269.36M472.05 270.02L472.37 269.85M472.35 270.54L472.47 270.48M476.96 268.87L479.51 267.58M477.25 269.46L479.23 268.47M476.96 268.87A61.06 61.06 0 0 1 477.25 269.46M472.78 271.33L477.1 269.16M473.2 272.12L473.59 271.93M473.47 272.65L473.87 272.47M474.9 272.66L475.44 272.42M475.15 273.22L475.7 272.98M474.9 272.66A57.56 57.56 0 0 1 475.15 273.22M473.87 273.46L475.02 272.94M474.26 274.27L474.54 274.15M474.51 274.82L474.68 274.75M474.75 275.36L475.02 275.25M474.99 275.91L475.28 275.8M476.6 275.94L477.16 275.73M476.82 276.52L477.38 276.31M476.6 275.94A57.87 57.87 0 0 1 476.82 276.52M475.34 276.74L476.71 276.23M475.67 277.58L475.82 277.53M475.89 278.14L476.12 278.06M476.1 278.7L476.34 278.63M476.3 279.27L476.45 279.22M478.72 279.15L479.29 278.98M478.9 279.75L479.47 279.58M479.07 280.35L479.65 280.19M478.9 279.75A58.83 58.83 0 0 1 479.07 280.35M478.72 279.15A58.83 58.83 0 0 1 478.98 280.05M478.34 279.76L478.85 279.6M479.06 281.01L479.64 280.85M479.22 281.61L479.8 281.46M479.06 281.01A58.64 58.64 0 0 1 479.22 281.61M479.05 281.33L479.14 281.31M479.29 282.23L479.87 282.09M479.05 281.33A58.55 58.55 0 0 1 479.29 282.23M478.92 281.85L479.17 281.78M478.34 279.76A58.29 58.29 0 0 1 478.92 281.85M476.97 281.27L478.64 280.8M477.56 283.29L477.93 283.2M479.1 283.56L480.06 283.34M479.87 284.02L480.45 283.89M480 284.63L480.58 284.51M479.87 284.02A58.71 58.71 0 0 1 480 284.63M479.71 284.37L479.93 284.33M479.89 285.29L480.48 285.17M479.71 284.37A58.48 58.48 0 0 1 479.89 285.29M479.39 284.91L479.8 284.83M479.1 283.56A58.06 58.06 0 0 1 479.39 284.91M477.89 284.53L479.25 284.23M479.88 285.92L480.47 285.81M479.99 286.53L480.58 286.43M479.88 285.92A58.35 58.35 0 0 1 479.99 286.53M478.34 286.51L479.93 286.23M478.52 287.4L478.78 287.36M478.63 287.99L479.06 287.93M478.74 288.59L478.99 288.55M478.83 289.19L478.95 289.17M478.93 289.78L479.23 289.75M479.01 290.38L479.26 290.36M479.09 290.98L479.25 290.97M479.17 291.58L479.36 291.57M480.09 292.12L480.69 292.07M480.14 292.73L480.88 292.68M480.09 292.12A57.76 57.76 0 0 1 480.14 292.73M479.27 292.48L480.11 292.42M479.35 293.39L479.67 293.37M481.63 293.9L482.23 293.87M481.65 294.52L482.25 294.5M481.63 293.9A59.19 59.19 0 0 1 481.65 294.52M481.67 295.15L482.27 295.14M481.64 294.21A59.19 59.19 0 0 1 481.67 295.15M481.22 294.69L481.66 294.68M481.24 295.79L481.84 295.78M481.22 294.69A58.75 58.75 0 0 1 481.24 295.79M479.47 295.28L481.24 295.24M479.53 296.42L479.76 296.42M479.54 297.02L479.85 297.02M479.55 297.63L479.68 297.63M479.56 298.24L479.7 298.24M479.55 298.84L479.7 298.85M479.54 299.45L479.95 299.47M480.67 300.13L481.27 300.17M480.63 300.75L481.23 300.79M480.67 300.13A58.29 58.29 0 0 1 480.63 300.75M480.28 300.41L480.65 300.44M480.21 301.34L481.26 301.42M480.28 300.41A57.91 57.91 0 0 1 480.21 301.34M479.49 300.82L480.24 300.88M485.07 302.41L486.15 302.52M485 303.08L485.69 303.15M485.07 302.41A62.85 62.85 0 0 1 485 303.08M483.42 302.59L485.04 302.75M483.32 303.56L485.57 303.82M483.42 302.59A61.23 61.23 0 0 1 483.32 303.56M479.38 302.64L483.37 303.07M479.29 303.7L487.22 304.71M479.23 304.31L479.38 304.33M480.85 305.17L481.45 305.25M480.76 305.79L481.38 305.88M480.85 305.17A58.99 58.99 0 0 1 480.76 305.79M480.66 306.4L481.25 306.51M480.81 305.48A58.99 58.99 0 0 1 480.66 306.4M479.06 305.67L480.73 305.94M478.92 306.73L479.03 306.75M478.83 307.33L479.11 307.39M478.73 307.93L478.94 307.98M480.47 308.93L481.31 309.11M480.34 309.55L481.37 309.78M480.47 308.93A59.29 59.29 0 0 1 480.34 309.55M478.56 308.83L480.41 309.24M479.73 310.05L480.51 310.24M479.93 310.74L480.51 310.89M479.89 311.39L480.79 311.62M479.93 312.05L480.51 312.21M479.76 312.66L480.34 312.82M479.93 312.05A59.5 59.5 0 0 1 479.76 312.66M479.8 312.34L479.85 312.36M479.54 313.25L480.11 313.42M479.8 312.34A59.45 59.45 0 0 1 479.54 313.25M479.52 312.75L479.67 312.8M479.89 311.39A59.29 59.29 0 0 1 479.52 312.75M479.59 312.04L479.71 312.07M479.93 310.74A59.17 59.17 0 0 1 479.59 312.04M479.42 311.3L479.76 311.39M479.73 310.05A58.81 58.81 0 0 1 479.42 311.3M478.28 310.36L479.58 310.68M477.53 313.3L477.72 313.36M478.89 314.38L479.47 314.56M478.76 314.99L479.33 315.18M478.56 315.59L479.33 315.85M478.76 314.99A59.22 59.22 0 0 1 478.56 315.59M478.6 315.27L478.66 315.29M478.89 314.38A59.16 59.16 0 0 1 478.6 315.27M477.25 314.34L478.75 314.82M476.84 315.65L477.07 315.73M477.69 316.61L478.25 316.82M477.47 317.2L478.03 317.41M477.69 316.61A58.74 58.74 0 0 1 477.47 317.2M476.55 316.53L477.58 316.91M476.25 317.4L476.64 317.55M476.04 317.97L476.48 318.15M475.83 318.55L476.23 318.72M475.61 319.12L476.03 319.3M475.38 319.69L475.48 319.73M475.15 320.26L475.36 320.36M474.91 320.83L475.18 320.95M474.66 321.39L475.11 321.61M475.39 322.43L475.93 322.7M475.45 323.17L475.99 323.44M475.19 323.74L475.73 324.02M474.9 324.3L475.66 324.7M475.19 323.74A59.32 59.32 0 0 1 474.9 324.3M475.45 323.17A59.29 59.29 0 0 1 475.02 324.01M474.9 323.41L475.24 323.59M475.39 322.43A58.91 58.91 0 0 1 474.9 323.41M474.2 322.45L475.15 322.92M473.35 324.17L473.7 324.37M476.04 326.38L476.97 326.9M475.72 326.95L476.76 327.55M476.04 326.38A61.31 61.31 0 0 1 475.72 326.95M472.92 324.99L475.88 326.67M472.49 325.81L472.75 325.96M472.19 326.35L472.58 326.58M471.88 326.88L471.99 326.95M471.57 327.42L471.97 327.67M471.26 327.95L471.6 328.17M470.93 328.47L471.02 328.53M470.61 329L470.91 329.2M470.27 329.52L470.37 329.59M469.93 330.04L470.13 330.17M469.59 330.55L469.9 330.78M469.24 331.06L469.63 331.35M468.88 331.57L469 331.65M468.52 332.07L468.84 332.31M468.16 332.57L468.38 332.74M467.79 333.06L468.02 333.25M467.41 333.55L467.65 333.75M467.03 334.04L467.38 334.34M468.08 335.77L468.53 336.16M467.66 336.25L468.11 336.64M468.08 335.77A60.16 60.16 0 0 1 467.66 336.25M467.26 335.48L467.87 336.01M467.03 336.54L467.49 336.95M466.7 337.11L467.15 337.51M466.27 337.58L466.71 337.99M466.7 337.11A60.02 60.02 0 0 1 466.27 337.58M466.38 337.24L466.49 337.34M465.73 337.94L466.16 338.35M466.38 337.24A59.88 59.88 0 0 1 465.73 337.94M467.03 336.54A59.88 59.88 0 0 1 466.06 337.59M466.15 336.71L466.54 337.07M467.26 335.48A59.35 59.35 0 0 1 466.15 336.71M465.93 335.4L466.71 336.1M465.03 338.15L465.46 338.57M464.94 338.95L465.36 339.37M464.48 339.4L464.9 339.83M464.94 338.95A60.02 60.02 0 0 1 464.48 339.4M464.36 338.82L464.71 339.18M465.03 338.15A59.52 59.52 0 0 1 464.36 338.82M463.89 337.68L464.69 338.48M462.92 338.69L463.08 338.86M462.48 339.13L462.81 339.48M462.03 339.56L462.18 339.72M461.59 340L461.82 340.25M461.13 340.42L461.38 340.7M461.83 342.19L462.22 342.64M461.34 342.6L461.73 343.06M461.83 342.19A60.29 60.29 0 0 1 461.34 342.6M461.45 342.24L461.59 342.4M460.72 342.85L461.11 343.33M461.45 342.24A60.08 60.08 0 0 1 460.72 342.85M460.21 343.24L460.58 343.7M461.07 342.53A60.05 60.05 0 0 1 460.21 343.24M459.68 341.72L460.64 342.88M458.8 342.49L458.89 342.6M459.33 344.19L459.7 344.67M458.94 344.74L459.3 345.22M458.53 345.26L458.88 345.75M458.01 345.64L458.36 346.13M458.53 345.26A60.63 60.63 0 0 1 458.01 345.64M458.17 345.31L458.27 345.45M458.94 344.74A60.45 60.45 0 0 1 458.17 345.31M458.44 344.87L458.55 345.03M459.33 344.19A60.26 60.26 0 0 1 458.44 344.87M457.9 343.24L458.88 344.53M456.36 344.43L456.62 344.79M455.86 344.8L456.11 345.16M455.35 345.17L455.51 345.4M454.84 345.53L454.98 345.74M454.33 345.88L454.51 346.17M453.81 346.24L453.88 346.34M453.29 346.58L453.4 346.76M452.77 346.92L453.01 347.34M452.24 347.26L452.43 347.58M451.7 347.59L451.8 347.76M451.17 347.91L451.24 348.04M450.63 348.23L450.72 348.4M450.09 348.54L450.2 348.75M449.54 348.85L449.74 349.24M448.99 349.15L449.13 349.43M448.44 349.44L448.64 349.86M450.03 354.24L450.35 354.92M449.49 354.7L449.78 355.31M448.87 354.99L449.12 355.53M449.49 354.7A64.16 64.16 0 0 1 448.87 354.99M448.24 355.24L448.48 355.79M449.17 354.82A64.13 64.13 0 0 1 448.24 355.24M448.64 354.88L448.71 355.04M450.03 354.24A63.96 63.96 0 0 1 448.64 354.88M447.25 350.06L449.33 354.56M445.62 350.83L445.68 350.96M448.2 358.71L448.42 359.26M447.53 358.98L447.76 359.54M448.2 358.71A67.31 67.31 0 0 1 447.53 358.98M444.76 351.22L447.86 358.85M443.9 351.59L444.05 352M443.31 351.83L443.36 351.96M442.73 352.07L442.77 352.17M442.85 354.31L443.05 354.88M442.24 354.52L442.43 355.09M442.85 354.31A61.29 61.29 0 0 1 442.24 354.52M441.85 352.41L442.55 354.42M440.97 352.74L441.05 353M440.37 352.95L440.45 353.19M439.78 353.15L439.9 353.57M439.51 354.49L439.68 355.06M438.89 354.66L439.06 355.24M439.51 354.49A60.43 60.43 0 0 1 438.89 354.66M438.27 354.84L438.43 355.42M439.2 354.58A60.43 60.43 0 0 1 438.27 354.84M438.43 353.59L438.74 354.71M437.64 354.95L437.87 355.85M437.15 355.65L437.3 356.23M436.52 355.8L436.66 356.39M437.15 355.65A60.94 60.94 0 0 1 436.52 355.8M436.75 355.38L436.84 355.73M435.81 355.6L435.95 356.22M436.75 355.38A60.58 60.58 0 0 1 435.81 355.6M436.24 355.3L436.28 355.49M437.64 354.95A60.38 60.38 0 0 1 436.24 355.3M436.69 354.11L436.94 355.13M434.93 354.56L435.01 354.95M434.31 354.71L434.36 354.92M433.98 356.29L434.09 356.91M433.34 356.41L433.45 357.05M433.98 356.29A60.89 60.89 0 0 1 433.34 356.41M433.39 354.92L433.66 356.35M432.46 355.11L432.5 355.33M432.75 360.98L432.85 361.57M432.07 361.08L432.22 362.14M432.75 360.98A65.29 65.29 0 0 1 432.07 361.08M431.53 355.29L432.41 361.03M431.82 364.39L431.84 364.54M431.11 364.55L431.17 365.02M430.39 364.72L430.43 365.06M429.67 364.87L429.71 365.21M428.95 365.02L428.96 365.15M428.23 365.16L428.25 365.41M427.5 365.29L427.52 365.52M426.78 365.41L426.79 365.64M426.05 365.53L426.06 365.69M425.38 367.28L425.41 367.88M424.63 367.3L424.65 367.9M425.38 367.28A70.84 70.84 0 0 1 424.63 367.3M424.95 365.69L425.01 367.29M423.89 367.87L423.9 368.47M423.13 367.88L423.13 368.48M423.89 367.87A71.39 71.39 0 0 1 423.13 367.88M422.37 367.85L422.37 368.45M423.51 367.84A71.35 71.35 0 0 1 422.37 367.85M422.94 367.77L422.94 367.85M421.61 367.76L421.6 368.36M422.94 367.77A71.27 71.27 0 0 1 421.61 367.76M422.28 367.52L422.27 367.77M420.86 367.5L420.84 368.28M422.28 367.52A71.02 71.02 0 0 1 420.86 367.5M421.57 367.24L421.57 367.51M420.11 367.2L420.09 367.8M421.57 367.24A70.74 70.74 0 0 1 420.11 367.2M420.87 366.01L420.84 367.22M419.4 366.22L419.35 367.52M418.61 367.14L418.58 367.74M417.83 367.52L417.79 368.12M417.08 367.47L417.03 368.06M416.32 367.4L416.27 368M417.08 367.47A71.17 71.17 0 0 1 416.32 367.4M417.83 367.52A71.17 71.17 0 0 1 416.7 367.44M415.57 367.34L415.51 367.93M417.26 367.48A71.17 71.17 0 0 1 415.57 367.34M416.44 367.17L416.42 367.41M414.84 367.02L414.76 367.77M416.44 367.17A70.93 70.93 0 0 1 414.84 367.02M415.66 366.92L415.64 367.1M418.61 367.14A70.75 70.75 0 0 1 415.66 366.92M417.18 366.35L417.13 367.05M414.17 366.31L414.08 366.99M413.2 367.94L413.12 368.54M412.44 367.84L412.36 368.44M413.2 367.94A72.05 72.05 0 0 1 412.44 367.84M412.83 367.8L412.82 367.89M411.7 367.64L411.6 368.23M412.83 367.8A71.96 71.96 0 0 1 411.7 367.64M412.48 366.24L412.26 367.72M410.87 367.95L410.77 368.54M410.11 367.82L410.01 368.41M410.87 367.95A72.39 72.39 0 0 1 410.11 367.82M410.52 367.71L410.49 367.88M409.39 367.51L409.28 368.1M410.52 367.71A72.21 72.21 0 0 1 409.39 367.51M410.22 366.11L409.95 367.61M408.9 366.01L408.63 367.39M407.31 369.97L407.14 370.79M406.39 370.44L406.26 371.03M405.6 370.27L405.47 370.85M406.39 370.44A75.68 75.68 0 0 1 405.6 370.27M406.02 370.24L405.99 370.36M404.85 369.96L404.71 370.55M406.02 370.24A75.55 75.55 0 0 1 404.85 369.96M405.46 370L405.43 370.1M404.09 369.67L403.91 370.4M405.46 370A75.45 75.45 0 0 1 404.09 369.67M404.88 369.42L404.77 369.84M407.31 369.97A75.02 75.02 0 0 1 404.88 369.42M406.33 368.64L406.09 369.7M403.7 368L403.09 370.33M406.33 368.64A73.93 73.93 0 0 1 403.7 368M405.68 365.57L405.01 368.33M402.49 369.45L402.24 370.35M401.5 369.97L401.31 370.63M400.58 370.22L400.41 370.8M399.8 369.98L399.62 370.56M400.58 370.22A76.91 76.91 0 0 1 399.8 369.98M400.33 369.63L400.19 370.1M401.5 369.97A76.41 76.41 0 0 1 400.33 369.63M401.14 369.06L400.92 369.8M402.49 369.45A75.64 75.64 0 0 1 401.14 369.06M402.95 365.24L401.81 369.26M400.27 365.83L400.09 366.4M399.35 366.15L399.16 366.72M398.61 365.9L398.41 366.47M399.35 366.15A73.4 73.4 0 0 1 398.61 365.9M399.17 365.47L398.98 366.03M400.27 365.83A72.81 72.81 0 0 1 399.17 365.47M400.06 364.62L399.72 365.65M396.65 369.08L395.38 372.65M395.09 370.94L394.75 371.87M394.3 370.64L394.02 371.39M395.09 370.94A79.32 79.32 0 0 1 394.3 370.64M395.49 368.65L394.69 370.79M396.65 369.08A77.04 77.04 0 0 1 395.49 368.65M397.82 364.08L396.07 368.87M396.15 363.61L395.73 364.68M395.41 363.4L395.16 364.02M394.68 363.17L393.93 364.95M393.42 364.16L393.18 364.71M392.61 364.04L392.37 364.59M391.89 363.72L391.53 364.51M392.61 364.04A73.86 73.86 0 0 1 391.89 363.72M392.34 363.68L392.25 363.88M393.42 364.16A73.64 73.64 0 0 1 392.34 363.68M393.38 362.78L392.88 363.92M391.21 363.34L390.95 363.88M390.5 363L390.24 363.54M389.79 362.66L389.53 363.19M390.5 363A73.8 73.8 0 0 1 389.79 362.66M391.21 363.34A73.8 73.8 0 0 1 390.14 362.83M391.18 362.02L390.67 363.09M389.56 361.38L388.93 362.63M388.83 361.1L386.25 366.06M388.11 360.8L386.64 363.55M387.4 360.5L387.32 360.63M385.65 362.02L385.35 362.54M384.75 361.98L384.45 362.5M384.06 361.57L383.75 362.09M384.75 361.98A75.58 75.58 0 0 1 384.06 361.57M384.61 361.42L384.4 361.78M385.65 362.02A75.17 75.17 0 0 1 384.61 361.42M386.14 359.96L385.13 361.72M381.53 364.19L380.67 365.61M380.82 363.75L379.78 365.42M381.53 364.19A79.12 79.12 0 0 1 380.82 363.75M384.2 359.03L381.17 363.97M383.15 358.5L382.72 359.18M382.45 358.14L382.22 358.5M381.75 357.78L380.97 358.95M381.06 357.4L380.4 358.38M380.38 357.02L379.9 357.7M377.22 360.1L376.68 360.86M376.33 359.91L375.83 360.59M375.66 359.41L375.3 359.9M376.33 359.91A78.44 78.44 0 0 1 375.66 359.41M376.04 359.59L375.99 359.66M375.04 358.84L374.66 359.35M376.04 359.59A78.35 78.35 0 0 1 375.04 358.84M375.71 359L375.54 359.22M377.22 360.1A78.07 78.07 0 0 1 375.71 359M378.91 356.2L376.46 359.55M376.99 354.99L375.96 356.31M375.3 355.84L374.77 356.52M374.67 355.34L374.29 355.8M375.3 355.84A75.82 75.82 0 0 1 374.67 355.34M375.99 354.34L374.99 355.59M375 353.68L369.9 359.83M372.09 355.9L371.7 356.35M371.16 355.69L370.77 356.15M370.54 355.14L370.14 355.59M369.92 354.59L369.51 355.03M370.54 355.14A78.35 78.35 0 0 1 369.92 354.59M371.16 355.69A78.35 78.35 0 0 1 370.23 354.87M370.73 355.24L370.69 355.28M369.08 354.26L368.67 354.7M368.47 353.69L368.06 354.13M369.08 354.26A78.68 78.68 0 0 1 368.47 353.69M369.03 353.7L368.78 353.98M370.73 355.24A78.3 78.3 0 0 1 369.03 353.7M370.14 354.19L369.88 354.48M372.09 355.9A77.91 77.91 0 0 1 370.14 354.19M373.29 352.56L371.1 355.05M370.52 350.36L367.56 353.43M369.9 349.86L369.25 350.51M369.28 349.35L368.52 350.1M366.92 350.53L366.49 350.95M366.35 349.93L365.92 350.35M366.92 350.53A77.51 77.51 0 0 1 366.35 349.93M368.36 348.57L366.64 350.23M367.46 347.78L366.3 348.85M366.86 347.24L366.33 347.72M366.27 346.69L365.78 347.13M363.38 348.15L362.93 348.55M362.6 347.72L362.1 348.15M362.06 347.08L361.6 347.47M362.6 347.72A78.82 78.82 0 0 1 362.06 347.08M362.57 347.2L362.33 347.4M363.38 348.15A78.5 78.5 0 0 1 362.57 347.2M365.23 345.74L362.97 347.68M363.95 344.45L363.06 345.18M363.39 343.87L362.1 344.9M361.75 344.13L361.17 344.58M360.68 343.91L360.21 344.28M360.18 343.25L359.7 343.61M360.68 343.91A77.9 77.9 0 0 1 360.18 343.25M361 343.16L360.43 343.58M361.75 344.13A77.2 77.2 0 0 1 361 343.16M362.4 342.85L361.37 343.64M361.19 341.49L360.39 342.07M360.65 340.87L359.59 341.64M360.12 340.26L356.01 343.14M359.6 339.63L358.31 340.52M359.08 339L358.04 339.7M357.38 339.15L356.34 339.83M356.39 338.8L355.88 339.12M355.82 338.17L355.31 338.49M355.38 337.46L354.86 337.77M355.82 338.17A78.64 78.64 0 0 1 355.38 337.46M355.72 337.74L355.59 337.82M356.39 338.8A78.49 78.49 0 0 1 355.72 337.74M356.59 337.93L356.05 338.27M357.38 339.15A77.85 77.85 0 0 1 356.59 337.93M358.09 337.83L356.98 338.54M356.59 335.76L356.2 336M356.12 335.1L355.06 335.71M355.64 334.43L354.5 335.07M355.18 333.75L354.17 334.31M354.72 333.07L353.57 333.69M354.27 332.38L352.97 333.06M353.83 331.68L352.77 332.23M353.39 330.99L351.78 331.79M351.06 331.2L350.52 331.47M350.43 330.57L349.89 330.82M350.07 329.8L349.53 330.05M350.43 330.57A79.72 79.72 0 0 1 350.07 329.8M350.51 330.06L350.25 330.18M349.99 328.91L349.44 329.15M350.51 330.06A79.42 79.42 0 0 1 349.99 328.91M351.06 331.2A79.42 79.42 0 0 1 350.25 329.48M352.46 329.49L350.65 330.35M350.31 327.85L349.76 328.09M349.84 327.13L349.29 327.37M349.52 326.36L348.97 326.59M349.84 327.13A78.85 78.85 0 0 1 349.52 326.36M349.82 326.69L349.68 326.75M350.31 327.85A78.7 78.7 0 0 1 349.82 326.69M350.18 327.22L350.06 327.27M349.46 325.48L348.91 325.7M350.18 327.22A78.57 78.57 0 0 1 349.46 325.48M350.61 326.03L349.82 326.35M349.07 324.74L348.51 324.95M348.77 323.95L348.21 324.16M349.07 324.74A78.67 78.67 0 0 1 348.77 323.95M349.6 324.09L348.92 324.35M349.07 322.96L346.39 323.92M348.72 322.2L348.49 322.28M348.38 321.44L347.93 321.59M348.05 320.67L347.19 320.95M347.72 319.9L346.85 320.17M347.41 319.13L345.82 319.6M344.98 318.96L344.4 319.13M344.4 318.23L343.82 318.39M344.18 317.4L343.6 317.55M344.4 318.23A81.07 81.07 0 0 1 344.18 317.4M343.98 316.56L343.39 316.71M344.31 317.81A81.05 81.05 0 0 1 343.98 316.56M344.46 317.1L344.14 317.19M344.98 318.96A80.71 80.71 0 0 1 344.46 317.1M346.73 317.47L344.71 318.03M345.95 315.19L345.21 315.37M345.68 314.39L344.37 314.7M345.42 313.59L344.14 313.88M341.39 313.58L340.81 313.71M340.84 312.79L340.25 312.91M340.67 311.92L340.08 312.03M340.84 312.79A83.27 83.27 0 0 1 340.67 311.92M341.05 312.3L340.76 312.36M340.81 311L340.22 311.1M341.05 312.3A82.96 82.96 0 0 1 340.81 311M341.01 311.64L340.93 311.65M341.39 313.58A82.89 82.89 0 0 1 341.01 311.64M340.77 310.11L340.18 310.21M341.22 312.6A82.86 82.86 0 0 1 340.77 310.11M342.34 311.11L340.99 311.36M341.99 309.03L340.01 309.34M342.34 311.11A81.48 81.48 0 0 1 341.99 309.03M344.4 309.69L342.16 310.07M343.85 307.89L343.45 307.94M428.6 242.33A54.51 54.51 0 0 1 429.18 242.4M429.18 242.38A54.53 54.53 0 0 1 430.04 242.49M430.05 242.47A54.56 54.56 0 0 1 430.91 242.59M430.91 242.57A54.59 54.59 0 0 1 431.49 242.66M431.49 242.64A54.6 54.6 0 0 1 432.92 242.9M432.93 242.85A54.65 54.65 0 0 1 434.35 243.15M434.36 243.1A54.7 54.7 0 0 1 434.93 243.23M434.93 243.22A54.71 54.71 0 0 1 435.5 243.35M435.5 243.33A54.73 54.73 0 0 1 436.07 243.47M436.07 243.46A54.75 54.75 0 0 1 436.63 243.6M436.64 243.59A54.77 54.77 0 0 1 437.48 243.82M437.49 243.79A54.8 54.8 0 0 1 438.33 244.04M438.34 244.01A54.82 54.82 0 0 1 463.15 259.71M463.15 259.71L463.5 259.4M463.5 259.4A55.29 55.29 0 0 1 463.5 259.41M463.5 259.41L463.85 259.09M463.85 259.09A55.76 55.76 0 0 1 464.69 260.04M464.72 260.01A55.81 55.81 0 0 1 465.82 261.31M465.85 261.29A55.85 55.85 0 0 1 466.41 261.98M466.43 261.96A55.88 55.88 0 0 1 467.44 263.29M467.44 263.29L467.5 263.25M467.5 263.25A55.95 55.95 0 0 1 469.1 265.53M469.1 265.53L469.16 265.5M469.16 265.5A56.02 56.02 0 0 1 469.48 266M469.5 265.99A56.04 56.04 0 0 1 469.82 266.49M469.84 266.48A56.05 56.05 0 0 1 470.62 267.75M470.66 267.72A56.1 56.1 0 0 1 471.41 269.01M471.45 268.99A56.15 56.15 0 0 1 471.74 269.51M471.75 269.51A56.16 56.16 0 0 1 472.04 270.03M472.05 270.02A56.18 56.18 0 0 1 472.33 270.55M472.35 270.54A56.2 56.2 0 0 1 472.76 271.34M472.78 271.33A56.23 56.23 0 0 1 473.18 272.13M473.2 272.12A56.26 56.26 0 0 1 473.46 272.66M473.47 272.65A56.27 56.27 0 0 1 473.85 273.47M473.87 273.46A56.3 56.3 0 0 1 474.23 274.28M474.26 274.27A56.33 56.33 0 0 1 474.49 274.82M474.51 274.82A56.35 56.35 0 0 1 474.74 275.37M474.75 275.36A56.37 56.37 0 0 1 474.98 275.92M474.99 275.91A56.39 56.39 0 0 1 475.31 276.75M475.34 276.74A56.41 56.41 0 0 1 475.65 277.59M475.67 277.58A56.44 56.44 0 0 1 475.87 278.15M475.89 278.14A56.46 56.46 0 0 1 476.08 278.71M476.1 278.7A56.48 56.48 0 0 1 476.29 279.28M476.3 279.27A56.5 56.5 0 0 1 476.91 281.28M476.91 281.28L476.97 281.27M476.97 281.27A56.56 56.56 0 0 1 477.5 283.3M477.5 283.3L477.56 283.29M477.56 283.29A56.62 56.62 0 0 1 477.85 284.54M477.89 284.53A56.67 56.67 0 0 1 478.28 286.52M478.28 286.52L478.34 286.51M478.34 286.51A56.72 56.72 0 0 1 478.49 287.41M478.52 287.4A56.75 56.75 0 0 1 478.61 288M478.63 287.99A56.77 56.77 0 0 1 478.72 288.59M478.74 288.59A56.79 56.79 0 0 1 478.82 289.19M478.83 289.19A56.81 56.81 0 0 1 478.91 289.79M478.93 289.78A56.83 56.83 0 0 1 479 290.38M479.01 290.38A56.84 56.84 0 0 1 479.08 290.98M479.09 290.98A56.86 56.86 0 0 1 479.15 291.58M479.17 291.58A56.88 56.88 0 0 1 479.24 292.49M479.27 292.48A56.91 56.91 0 0 1 479.32 293.39M479.35 293.39A56.94 56.94 0 0 1 479.42 295.28M479.47 295.28A56.98 56.98 0 0 1 479.48 296.42M479.53 296.42A57.03 57.03 0 0 1 479.53 297.02M479.54 297.02A57.05 57.05 0 0 1 479.53 297.63M479.55 297.63A57.06 57.06 0 0 1 479.54 298.24M479.56 298.24A57.08 57.08 0 0 1 479.53 298.84M479.55 298.84A57.1 57.1 0 0 1 479.52 299.45M479.54 299.45A57.12 57.12 0 0 1 479.46 300.82M479.49 300.82A57.16 57.16 0 0 1 479.33 302.63M479.33 302.63L479.38 302.64M479.38 302.64A57.21 57.21 0 0 1 479.26 303.7M479.29 303.7A57.25 57.25 0 0 1 479.21 304.31M479.23 304.31A57.27 57.27 0 0 1 479.03 305.66M479.06 305.67A57.3 57.3 0 0 1 478.88 306.72M478.92 306.73A57.34 57.34 0 0 1 478.81 307.33M478.83 307.33A57.36 57.36 0 0 1 478.71 307.93M478.73 307.93A57.38 57.38 0 0 1 478.54 308.83M478.56 308.83A57.4 57.4 0 0 1 478.21 310.34M478.21 310.34L478.28 310.36M478.28 310.36A57.48 57.48 0 0 1 477.47 313.28M477.47 313.28L477.53 313.3M477.53 313.3A57.54 57.54 0 0 1 477.21 314.32M477.25 314.34A57.58 57.58 0 0 1 476.8 315.64M476.84 315.65A57.61 57.61 0 0 1 476.53 316.52M476.55 316.53A57.64 57.64 0 0 1 476.23 317.39M476.25 317.4A57.67 57.67 0 0 1 476.03 317.97M476.04 317.97A57.69 57.69 0 0 1 475.81 318.54M475.83 318.55A57.71 57.71 0 0 1 475.59 319.11M475.61 319.12A57.73 57.73 0 0 1 475.36 319.69M475.38 319.69A57.74 57.74 0 0 1 475.13 320.25M475.15 320.26A57.76 57.76 0 0 1 474.89 320.82M474.91 320.83A57.78 57.78 0 0 1 474.65 321.38M474.66 321.39A57.8 57.8 0 0 1 474.16 322.43M474.2 322.45A57.84 57.84 0 0 1 473.31 324.15M473.35 324.17A57.89 57.89 0 0 1 472.9 324.98M472.92 324.99A57.92 57.92 0 0 1 472.46 325.79M472.49 325.81A57.95 57.95 0 0 1 472.17 326.34M472.19 326.35A57.96 57.96 0 0 1 471.87 326.87M471.88 326.88A57.98 57.98 0 0 1 471.56 327.41M471.57 327.42A58 58 0 0 1 471.24 327.94M471.26 327.95A58.02 58.02 0 0 1 470.92 328.46M470.93 328.47A58.04 58.04 0 0 1 470.59 328.99M470.61 329A58.06 58.06 0 0 1 470.26 329.51M470.27 329.52A58.07 58.07 0 0 1 469.92 330.03M469.93 330.04A58.09 58.09 0 0 1 469.58 330.54M469.59 330.55A58.11 58.11 0 0 1 469.23 331.05M469.24 331.06A58.13 58.13 0 0 1 468.87 331.55M468.88 331.57A58.15 58.15 0 0 1 468.51 332.06M468.52 332.07A58.17 58.17 0 0 1 468.14 332.56M468.16 332.57A58.18 58.18 0 0 1 467.77 333.05M467.79 333.06A58.2 58.2 0 0 1 467.39 333.54M467.41 333.55A58.22 58.22 0 0 1 467.01 334.03M467.03 334.04A58.24 58.24 0 0 1 465.88 335.36M465.88 335.36L465.93 335.4M465.93 335.4A58.3 58.3 0 0 1 463.83 337.62M463.83 337.62L463.89 337.68M463.89 337.68A58.39 58.39 0 0 1 462.89 338.66M462.92 338.69A58.42 58.42 0 0 1 462.46 339.11M462.48 339.13A58.44 58.44 0 0 1 462.02 339.55M462.03 339.56A58.46 58.46 0 0 1 461.57 339.98M461.59 340A58.48 58.48 0 0 1 461.12 340.41M461.13 340.42A58.5 58.5 0 0 1 459.65 341.68M459.68 341.72A58.54 58.54 0 0 1 458.77 342.45M458.8 342.49A58.59 58.59 0 0 1 457.88 343.2M457.9 343.24A58.63 58.63 0 0 1 456.33 344.39M456.36 344.43A58.68 58.68 0 0 1 455.85 344.78M455.86 344.8A58.7 58.7 0 0 1 455.34 345.15M455.35 345.17A58.72 58.72 0 0 1 454.83 345.51M454.84 345.53A58.73 58.73 0 0 1 454.32 345.87M454.33 345.88A58.75 58.75 0 0 1 453.8 346.22M453.81 346.24A58.77 58.77 0 0 1 453.28 346.57M453.29 346.58A58.79 58.79 0 0 1 452.76 346.91M452.77 346.92A58.81 58.81 0 0 1 452.23 347.24M452.24 347.26A58.83 58.83 0 0 1 451.7 347.57M451.7 347.59A58.84 58.84 0 0 1 451.16 347.89M451.17 347.91A58.86 58.86 0 0 1 450.62 348.21M450.63 348.23A58.88 58.88 0 0 1 450.08 348.52M450.09 348.54A58.9 58.9 0 0 1 449.53 348.83M449.54 348.85A58.92 58.92 0 0 1 448.98 349.13M448.99 349.15A58.94 58.94 0 0 1 448.43 349.43M448.44 349.44A58.95 58.95 0 0 1 447.23 350.02M447.25 350.06A59 59 0 0 1 445.6 350.79M445.62 350.83A59.05 59.05 0 0 1 444.75 351.19M444.76 351.22A59.07 59.07 0 0 1 443.89 351.57M443.9 351.59A59.1 59.1 0 0 1 443.31 351.82M443.31 351.83A59.12 59.12 0 0 1 442.73 352.05M442.73 352.07A59.14 59.14 0 0 1 441.84 352.39M441.85 352.41A59.17 59.17 0 0 1 440.96 352.71M440.97 352.74A59.19 59.19 0 0 1 440.37 352.93M440.37 352.95A59.21 59.21 0 0 1 439.77 353.14M439.78 353.15A59.23 59.23 0 0 1 438.42 353.55M438.43 353.59A59.27 59.27 0 0 1 436.67 354.05M436.67 354.05L436.69 354.11M436.69 354.11A59.33 59.33 0 0 1 434.92 354.52M434.93 354.56A59.38 59.38 0 0 1 434.31 354.69M434.31 354.71A59.4 59.4 0 0 1 433.38 354.89M433.39 354.92A59.42 59.42 0 0 1 432.46 355.08M432.46 355.11A59.45 59.45 0 0 1 431.52 355.26M431.53 355.29A59.48 59.48 0 0 1 430.59 355.43M430.59 355.43L431.82 364.39M431.82 364.39A68.52 68.52 0 0 1 431.1 364.48M431.1 364.48L431.11 364.55M431.11 364.55A68.6 68.6 0 0 1 430.38 364.64M430.38 364.64L430.39 364.72M430.39 364.72A68.67 68.67 0 0 1 429.67 364.8M429.67 364.8L429.67 364.87M429.67 364.87A68.75 68.75 0 0 1 428.95 364.94M428.95 364.94L428.95 365.02M428.95 365.02A68.82 68.82 0 0 1 428.22 365.08M428.22 365.08L428.23 365.16M428.23 365.16A68.89 68.89 0 0 1 427.5 365.21M427.5 365.21L427.5 365.29M427.5 365.29A68.97 68.97 0 0 1 426.77 365.34M426.77 365.34L426.78 365.41M426.78 365.41A69.04 69.04 0 0 1 426.04 365.45M426.04 365.45L426.05 365.53M426.05 365.53A69.12 69.12 0 0 1 424.95 365.57M424.95 365.57L424.95 365.69M424.95 365.69A69.23 69.23 0 0 1 420.88 365.71M420.88 365.71L420.87 366.01M420.87 366.01A69.53 69.53 0 0 1 419.42 365.96M419.42 365.96L419.4 366.22M419.4 366.22A69.79 69.79 0 0 1 417.2 366.09M417.2 366.09L417.18 366.35M417.18 366.35A70.05 70.05 0 0 1 414.2 366.06M414.2 366.06L414.17 366.31M414.17 366.31A70.31 70.31 0 0 1 412.5 366.09M412.5 366.09L412.48 366.24M412.48 366.24A70.46 70.46 0 0 1 410.26 365.89M410.26 365.89L410.22 366.11M410.22 366.11A70.68 70.68 0 0 1 408.92 365.87M408.92 365.87L408.9 366.01M408.9 366.01A70.83 70.83 0 0 1 405.75 365.32M405.75 365.32L405.68 365.57M405.68 365.57A71.09 71.09 0 0 1 403.06 364.88M403.06 364.88L402.95 365.24M402.95 365.24A71.46 71.46 0 0 1 400.14 364.38M400.14 364.38L400.06 364.62M400.06 364.62A71.73 71.73 0 0 1 397.9 363.87M397.9 363.87L397.82 364.08M397.82 364.08A71.95 71.95 0 0 1 396.21 363.47M396.21 363.47L396.15 363.61M396.15 363.61A72.1 72.1 0 0 1 395.44 363.33M395.44 363.33L395.41 363.4M395.41 363.4A72.17 72.17 0 0 1 394.7 363.1M394.7 363.1L394.68 363.17M394.68 363.17A72.25 72.25 0 0 1 393.44 362.64M393.44 362.64L393.38 362.78M393.38 362.78A72.4 72.4 0 0 1 391.28 361.82M391.28 361.82L391.18 362.02M391.18 362.02A72.62 72.62 0 0 1 389.62 361.25M389.62 361.25L389.56 361.38M389.56 361.38A72.77 72.77 0 0 1 388.87 361.03M388.87 361.03L388.83 361.1M388.83 361.1A72.84 72.84 0 0 1 388.15 360.73M388.15 360.73L388.11 360.8M388.11 360.8A72.92 72.92 0 0 1 387.43 360.43M387.43 360.43L387.4 360.5M387.4 360.5A72.99 72.99 0 0 1 386.21 359.83M386.21 359.83L386.14 359.96M386.14 359.96A73.14 73.14 0 0 1 384.3 358.87M384.3 358.87L384.2 359.03M384.2 359.03A73.33 73.33 0 0 1 383.21 358.41M383.21 358.41L383.15 358.5M383.15 358.5A73.44 73.44 0 0 1 382.49 358.08M382.49 358.08L382.45 358.14M382.45 358.14A73.51 73.51 0 0 1 381.8 357.71M381.8 357.71L381.75 357.78M381.75 357.78A73.59 73.59 0 0 1 381.11 357.34M381.11 357.34L381.06 357.4M381.06 357.4A73.66 73.66 0 0 1 380.42 356.96M380.42 356.96L380.38 357.02M380.38 357.02A73.74 73.74 0 0 1 379.02 356.05M379.02 356.05L378.91 356.2M378.91 356.2A73.92 73.92 0 0 1 377.1 354.84M377.1 354.84L376.99 354.99M376.99 354.99A74.11 74.11 0 0 1 376.06 354.25M376.06 354.25L375.99 354.34M375.99 354.34A74.22 74.22 0 0 1 375.08 353.59M375.08 353.59L375 353.68M375 353.68A74.33 74.33 0 0 1 373.46 352.36M373.46 352.36L373.29 352.56M373.29 352.56A74.59 74.59 0 0 1 370.7 350.17M370.7 350.17L370.52 350.36M370.52 350.36A74.85 74.85 0 0 1 369.95 349.81M369.95 349.81L369.9 349.86M369.9 349.86A74.93 74.93 0 0 1 369.33 349.3M369.33 349.3L369.28 349.35M369.28 349.35A75 75 0 0 1 368.44 348.49M368.44 348.49L368.36 348.57M368.36 348.57A75.11 75.11 0 0 1 367.54 347.7M367.54 347.7L367.46 347.78M367.46 347.78A75.23 75.23 0 0 1 366.92 347.19M366.92 347.19L366.86 347.24M366.86 347.24A75.3 75.3 0 0 1 366.32 346.64M366.32 346.64L366.27 346.69M366.27 346.69A75.37 75.37 0 0 1 365.34 345.64M365.34 345.64L365.23 345.74M365.23 345.74A75.52 75.52 0 0 1 364.07 344.35M364.07 344.35L363.95 344.45M363.95 344.45A75.67 75.67 0 0 1 363.45 343.82M363.45 343.82L363.39 343.87M363.39 343.87A75.75 75.75 0 0 1 362.52 342.76M362.52 342.76L362.4 342.85M362.4 342.85A75.9 75.9 0 0 1 361.31 341.4M361.31 341.4L361.19 341.49M361.19 341.49A76.04 76.04 0 0 1 360.71 340.83M360.71 340.83L360.65 340.87M360.65 340.87A76.12 76.12 0 0 1 360.18 340.21M360.18 340.21L360.12 340.26M360.12 340.26A76.19 76.19 0 0 1 359.66 339.59M359.66 339.59L359.6 339.63M359.6 339.63A76.27 76.27 0 0 1 359.15 338.96M359.15 338.96L359.08 339M359.08 339A76.34 76.34 0 0 1 358.25 337.73M358.25 337.73L358.09 337.83M358.09 337.83A76.53 76.53 0 0 1 356.75 335.67M356.75 335.67L356.59 335.76M356.59 335.76A76.72 76.72 0 0 1 356.18 335.06M356.18 335.06L356.12 335.1M356.12 335.1A76.79 76.79 0 0 1 355.71 334.39M355.71 334.39L355.64 334.43M355.64 334.43A76.86 76.86 0 0 1 355.24 333.71M355.24 333.71L355.18 333.75M355.18 333.75A76.94 76.94 0 0 1 354.79 333.03M354.79 333.03L354.72 333.07M354.72 333.07A77.01 77.01 0 0 1 354.34 332.34M354.34 332.34L354.27 332.38M354.27 332.38A77.09 77.09 0 0 1 353.89 331.65M353.89 331.65L353.83 331.68M353.83 331.68A77.16 77.16 0 0 1 353.46 330.95M353.46 330.95L353.39 330.99M353.39 330.99A77.24 77.24 0 0 1 352.63 329.41M352.63 329.41L352.46 329.49M352.46 329.49A77.42 77.42 0 0 1 350.88 325.91M350.88 325.91L350.61 326.03M350.61 326.03A77.72 77.72 0 0 1 349.81 324.01M349.81 324.01L349.6 324.09M349.6 324.09A77.94 77.94 0 0 1 349.17 322.92M349.17 322.92L349.07 322.96M349.07 322.96A78.06 78.06 0 0 1 348.79 322.18M348.79 322.18L348.72 322.2M348.72 322.2A78.13 78.13 0 0 1 348.45 321.42M348.45 321.42L348.38 321.44M348.38 321.44A78.2 78.2 0 0 1 348.12 320.65M348.12 320.65L348.05 320.67M348.05 320.67A78.28 78.28 0 0 1 347.79 319.88M347.79 319.88L347.72 319.9M347.72 319.9A78.35 78.35 0 0 1 347.48 319.11M347.48 319.11L347.41 319.13M347.41 319.13A78.43 78.43 0 0 1 346.91 317.42M346.91 317.42L346.73 317.47M346.73 317.47A78.61 78.61 0 0 1 346.13 315.15M346.13 315.15L345.95 315.19M345.95 315.19A78.8 78.8 0 0 1 345.75 314.38M345.75 314.38L345.68 314.39M345.68 314.39A78.88 78.88 0 0 1 345.5 313.57M345.5 313.57L345.42 313.59M345.42 313.59A78.95 78.95 0 0 1 344.65 309.65M344.65 309.65L344.4 309.69M344.4 309.69A79.21 79.21 0 0 1 344.11 307.85M344.11 307.85L343.85 307.89M326.07 309.41L317.14 310.61M325.94 308.39L309.07 310.46M326.07 309.41A97.29 97.29 0 0 1 325.94 308.39M333.23 307.97L326 308.9M313.06 308.79L312.46 308.86M308.74 308.05L298.41 309.1M308.63 306.84L301.98 307.45M308.74 308.05A114.34 114.34 0 0 1 308.63 306.84M312.88 307.04L308.68 307.45M312.72 305.29L302.84 306.09M312.88 307.04A110.13 110.13 0 0 1 312.72 305.29M313.06 308.79A110.13 110.13 0 0 1 312.8 306.17M315.23 307.25L312.92 307.48M314.95 303.97L310.86 304.25M315.23 307.25A107.8 107.8 0 0 1 314.95 303.97M325.76 304.7L315.08 305.61M309.83 303.12L309.24 303.15M309.77 301.92L302.85 302.25M309.83 303.12A112.86 112.86 0 0 1 309.77 301.92M311.05 302.45L309.8 302.52M310.97 300.67L289.36 301.48M311.05 302.45A111.61 111.61 0 0 1 310.97 300.67M318.44 301.22L311 301.56M301.5 299.74L281.13 300.28M299.09 298.49L297.75 298.51M299.08 297.18L287.24 297.24M299.09 298.49A123.43 123.43 0 0 1 299.08 297.18M301.46 297.81L299.08 297.83M301.5 299.74A121.05 121.05 0 0 1 301.46 297.81M304.15 298.72L301.47 298.77M304.13 295.89L290.9 295.82M304.15 298.72A118.37 118.37 0 0 1 304.13 295.89M311.25 297.26L304.13 297.31M295.63 294.5L285.3 294.33M295.66 293.15L288.19 292.95M295.63 294.5A126.89 126.89 0 0 1 295.66 293.15M295.7 291.8L285.27 291.41M295.64 293.82A126.89 126.89 0 0 1 295.7 291.8M304.22 293.06L295.67 292.81M287 290.03L268.56 289.15M283.15 288.36L269.23 287.55M283.24 286.88L282.64 286.84M283.15 288.36A139.59 139.59 0 0 1 283.24 286.88M287.12 287.87L283.19 287.62M287 290.03A135.65 135.65 0 0 1 287.12 287.87M297.28 289.52L287.06 288.95M285.43 285.57L279.26 285.07M278.93 283.51L278.33 283.46M275.52 281.62L267.82 280.84M275.69 280.06L275.09 279.99M275.52 281.62A147.73 147.73 0 0 1 275.69 280.06M279.15 281.22L275.6 280.84M278.93 283.51A144.16 144.16 0 0 1 279.15 281.22M279.41 278.94L267.8 277.51M279.03 282.36A144.16 144.16 0 0 1 279.41 278.94M285.83 281.38L279.21 280.65M285.43 285.57A137.5 137.5 0 0 1 285.83 281.38M290.6 283.95L285.62 283.47M277.6 277.15L261.08 274.94M277.81 275.61L239.75 270.11M278.04 274.07L270.3 272.87M277.81 275.61A146.19 146.19 0 0 1 278.04 274.07M277.6 277.15A146.19 146.19 0 0 1 277.93 274.84M280.15 276.33L277.76 275.99M280.67 272.93L267.84 270.8M280.15 276.33A143.77 143.77 0 0 1 280.67 272.93M284.54 275.27L280.4 274.63M272.58 269.94L253.36 266.54M268.16 267.46L266.53 267.16M268.48 265.82L256.95 263.53M268.16 267.46A157.05 157.05 0 0 1 268.48 265.82M273.02 267.55L268.32 266.64M272.58 269.94A152.26 152.26 0 0 1 273.02 267.55M278.29 269.77L272.8 268.75M258.91 262.11L226.36 255.26M258.97 260.3L258.38 260.17M256.52 257.9L249.58 256.29M256.94 256.14L247.66 253.87M256.52 257.9A170.41 170.41 0 0 1 256.94 256.14M259.57 257.69L256.73 257.02M258.97 260.3A167.49 167.49 0 0 1 259.57 257.69M259.58 259.07L259.26 259M258.91 262.11A167.17 167.17 0 0 1 259.58 259.07M272.34 263.47L259.24 260.59M256.99 254.28L256.41 254.13M257.45 252.52L250.89 250.77M256.99 254.28A170.81 170.81 0 0 1 257.45 252.52M258.55 253.75L257.22 253.4M259.25 251.14L248.75 248.22M258.55 253.75A169.44 169.44 0 0 1 259.25 251.14M262.42 253.39L258.89 252.44M263.25 250.42L246.83 245.67M262.42 253.39A165.78 165.78 0 0 1 263.25 250.42M267.6 253.23L262.83 251.9M253.55 245.66L213.09 233.48M247.08 241.67L246.51 241.49M247.67 239.81L243.62 238.49M247.08 241.67A183.79 183.79 0 0 1 247.67 239.81M254.38 242.97L247.38 240.74M253.55 245.66A176.43 176.43 0 0 1 254.38 242.97M262.1 246.83L253.96 244.31M252.62 239.41L247.78 237.78M252.4 237.31L235.73 231.51M253.04 235.51L245.85 232.92M252.4 237.31A180.1 180.1 0 0 1 253.04 235.51M253.55 236.7L252.72 236.41M252.62 239.41A179.22 179.22 0 0 1 253.55 236.7M257.07 239.43L253.08 238.05M333.23 307.97A90 90 0 0 1 332.82 304.1M332.82 304.1L325.76 304.7M325.76 304.7A97.08 97.08 0 0 1 325.52 300.9M325.52 300.9L318.44 301.22M318.44 301.22A104.17 104.17 0 0 1 318.34 297.21M318.34 297.21L311.25 297.26M311.25 297.26A111.25 111.25 0 0 1 311.3 293.27M311.3 293.27L304.22 293.06M304.22 293.06A118.33 118.33 0 0 1 304.35 289.92M304.35 289.92L297.28 289.52M297.28 289.52A125.42 125.42 0 0 1 297.65 284.62M297.65 284.62L290.6 283.95M290.6 283.95A132.5 132.5 0 0 1 291.54 276.34M291.54 276.34L284.54 275.27M284.54 275.27A139.58 139.58 0 0 1 285.25 271.06M285.25 271.06L278.29 269.77M278.29 269.77A146.67 146.67 0 0 1 279.26 264.99M279.26 264.99L272.34 263.47M272.34 263.47A153.75 153.75 0 0 1 274.42 255.14M274.42 255.14L267.6 253.23M267.6 253.23A160.83 160.83 0 0 1 268.86 248.93M268.86 248.93L262.1 246.83M262.1 246.83A167.92 167.92 0 0 1 263.76 241.74M263.76 241.74L257.07 239.43M343.85 307.89A79.47 79.47 0 0 1 343.68 306.63M343.68 306.63L333.23 307.97M402.02 248.7A52 52 0 0 1 428.32 244.83M428.32 244.83L428.6 242.33M422.5 296.5L402.02 248.7M298.41 309.1L265.31 312.46M344.37 314.7L310.5 322.59M348.51 324.95L335.7 329.88" stroke="#444" stroke-width="0.6" fill="none"/>
<path d="M229.94 185.3L222.2 180.83M230.87 183.11L223.44 178.71M232.35 181.23L224.7 176.6M233.74 179.31L225.99 174.5M234.33 176.89L227.3 172.42M235.8 175.02L228.63 170.35M237.11 173.04L229.98 168.3M238.77 171.31L231.36 166.26M240.14 169.38L232.75 164.23M241.44 167.4L234.17 162.22M242.99 165.6L235.61 160.22M243.86 163.3L237.07 158.24M245.43 161.53L238.55 156.28M247.2 159.9L240.05 154.33M248.6 158L241.57 152.4M249.63 155.79L243.12 150.48M251.74 154.45L244.68 148.58M253.09 152.51L246.26 146.7M254.72 150.79L247.87 144.83M255.94 148.71L249.49 142.98M257.68 147.09L251.13 141.15M259.52 145.57L252.79 139.34M261.09 143.8L254.47 137.54M262.52 141.89L256.17 135.77M264.37 140.4L257.89 134.01M266.11 138.8L259.63 132.26M267.69 137.04L261.39 130.54M269.29 135.28L263.16 128.84M271.2 133.86L264.95 127.15M272.44 131.72L266.76 125.49M274.36 130.31L268.59 123.84M276.23 128.85L270.44 122.21M277.77 127.01L272.3 120.6M279.95 125.92L274.18 119.02M281.36 123.92L276.07 117.45M283.53 122.82L277.99 115.9M285.19 121.11L279.92 114.38M287.08 119.69L281.86 112.87M289.13 118.46L283.82 111.38M290.81 116.75L285.8 109.92M292.86 115.55L287.79 108.48M295 114.48L289.8 107.05M297.01 113.23L291.82 105.65M298.61 111.37L293.86 104.27M300.63 110.14L295.91 102.92M302.78 109.1L297.98 101.58M304.54 107.45L300.06 100.27M306.87 106.72L302.15 98.98M308.59 105L304.26 97.71M310.8 104.07L306.38 96.46M312.75 102.73L308.51 95.24M314.67 101.3L310.66 94.04M316.75 100.17L312.82 92.86M318.85 99.05L314.99 91.7M321.09 98.22L317.17 90.57M323.18 97.11L319.37 89.46M325.59 96.65L321.58 88.38M327.58 95.34L323.8 87.32M329.51 93.88L326.03 86.28M331.91 93.43L328.27 85.26M333.91 92.08L330.52 84.27M336.17 91.36L332.78 83.31M338.44 90.65L335.06 82.37M340.68 89.88L337.34 81.45M342.91 89.09L339.63 80.55M344.96 87.82L341.93 79.69M347.15 86.92L344.24 78.84M349.4 86.2L346.56 78.02M351.62 85.36L348.89 77.23M353.99 84.99L351.23 76.45M356.17 84.03L353.57 75.71M358.49 83.53L355.92 74.99M360.63 82.4L358.28 74.29M363.06 82.3L360.65 73.62M365.38 81.84L363.02 72.98M367.5 80.58L365.4 72.36M369.89 80.37L367.79 71.76M372.1 79.42L370.18 71.19M374.38 78.79L372.58 70.65M376.77 78.62L374.99 70.13M379.05 77.94L377.4 69.64M381.47 77.98L379.81 69.17M383.77 77.41L382.23 68.73M386.12 77.1L384.66 68.32M388.49 76.99L387.09 67.93M390.71 75.83L389.52 67.56M393.07 75.54L391.96 67.23M395.41 75.18L394.4 66.91M397.81 75.29L396.84 66.63M400.2 75.36L399.29 66.37M402.54 75.01L401.74 66.13M404.88 74.69L404.19 65.93M407.26 74.79L406.64 65.74M409.6 74.21L409.1 65.59M411.95 73.85L411.55 65.46M414.34 74.23L414.01 65.36M416.69 73.6L416.47 65.28M419.06 73.73L418.93 65.23M421.43 73.53L421.39 65.2M423.8 73.65L423.85 65.2M426.17 73.59L426.31 65.23M428.53 74.06L428.77 65.28M430.91 73.77L431.23 65.36M433.26 74.3L433.69 65.47M435.61 74.63L436.14 65.6M438 74.35L438.6 65.76M440.38 74.33L441.05 65.95M442.69 75.02L443.5 66.16M445.04 75.3L445.95 66.39M447.38 75.69L448.4 66.65M449.76 75.68L450.84 66.94M452.11 76L453.28 67.26M454.41 76.58L455.72 67.6M456.78 76.77L458.15 67.96M459.07 77.41L460.58 68.36M461.5 77.2L463 68.77M463.75 78.06L465.42 69.22M466.1 78.38L467.84 69.69M468.45 78.72L470.25 70.18M470.85 78.81L472.65 70.7M473.07 79.75L475.05 71.25M475.41 80.11L477.44 71.82M477.64 80.98L479.83 72.42M479.95 81.5L482.21 73.04M482.23 82.13L484.58 73.69M484.62 82.38L486.95 74.36M486.88 83.12L489.31 75.06M489.01 84.22L491.66 75.78M491.25 85.01L494 76.53M493.4 86.01L496.34 77.3M495.7 86.61L498.66 78.1M498.08 86.98L500.98 78.92M500.25 87.93L503.29 79.77M502.45 88.81L505.59 80.64M504.55 89.92L507.88 81.54M506.89 90.47L510.17 82.46M508.89 91.81L512.44 83.4M511.22 92.38L514.7 84.37M513.41 93.27L516.95 85.36M515.54 94.31L519.19 86.38M517.73 95.21L521.42 87.42M519.61 96.76L523.64 88.48M522.12 97.03L525.84 89.57M524.09 98.39L528.04 90.68M526.32 99.22L530.22 91.82M528.16 100.81L532.39 92.97M530.46 101.53L534.55 94.15M532.53 102.69L536.7 95.36M534.46 104.09L538.83 96.58M536.42 105.43L540.95 97.83M538.37 106.77L543.06 99.1M540.54 107.77L545.15 100.4M542.61 108.92L547.23 101.71M544.56 110.27L549.29 103.05M546.27 111.96L551.34 104.41M548.57 112.79L553.38 105.79M550.62 113.99L555.4 107.19M552.1 116.01L557.4 108.62M554.23 117.1L559.4 110.06M556.32 118.26L561.37 111.53M558.2 119.7L563.33 113.02M559.66 121.68L565.27 114.52M561.59 123.05L567.2 116.05M563.81 124.07L569.11 117.6M565.29 126L571.01 119.17M567.36 127.21L572.88 120.76M569.02 128.92L574.74 122.37M570.7 130.6L576.59 124M572.79 131.81L578.41 125.65M573.99 134L580.22 127.32M576.08 135.23L582.01 129M577.91 136.75L583.78 130.71M579.19 138.82L585.54 132.43M581.29 140.07L587.27 134.18M582.99 141.72L588.99 135.94M584.23 143.82L590.69 137.72M585.96 145.44L592.37 139.52M587.27 147.44L594.03 141.33M588.92 149.14L595.67 143.16M590.88 150.57L597.29 145.01M592.53 152.28L598.89 146.88M593.67 154.42L600.47 148.77M595.26 156.17L602.03 150.67M596.87 157.92L603.58 152.59M597.89 160.12L605.1 154.52M599.84 161.61L606.6 156.47M600.95 163.74L608.07 158.44M602.77 165.34L609.53 160.42M603.53 167.71L610.97 162.41M604.87 169.65L612.38 164.43M606.45 171.43L613.78 166.45M608 173.25L615.15 168.5M608.99 175.43L616.5 170.55M610.13 177.5L617.83 172.62M611.47 179.45L619.14 174.71M613.29 181.12L620.42 176.8M614.14 183.37L621.68 178.92M615.62 185.25L622.92 181.04M616.47 187.49L624.14 183.18M617.3 189.73L625.33 185.33M618.5 191.77L626.5 187.49M620.09 193.61L627.65 189.67M620.93 195.84L628.78 191.86M622.18 197.86L629.88 194.06M623.34 199.93L630.96 196.27M623.88 202.29L632.01 198.49M624.86 204.45L633.04 200.73M626.18 206.45L634.05 202.97M627.06 208.65L635.03 205.23M627.75 210.93L635.99 207.49M628.62 213.12L636.92 209.77M629.72 215.24L637.83 212.05M630.86 217.33L638.72 214.35M631.71 219.55L639.58 216.65M632.45 221.8L640.42 218.96M632.68 224.23L641.23 221.29M633.72 226.37L642.02 223.62M634.32 228.66L642.78 225.96M635.27 230.85L643.52 228.3M635.96 233.12L644.23 230.66M636.78 235.34L644.92 233.02M636.73 237.81L645.58 235.39M637.66 240.01L646.22 237.77M638.67 242.2L646.83 240.15M638.73 244.62L647.42 242.54M639.36 246.9L647.98 244.93M639.86 249.21L648.51 247.33M640.22 251.56L649.02 249.74M640.83 253.85L649.51 252.15M641.03 256.22L649.97 254.57M641.36 258.56L650.4 256.99M642.25 260.81L650.81 259.42M642.41 263.18L651.19 261.85M642.99 265.48L651.54 264.28M643.28 267.83L651.87 266.72M643.61 270.18L652.18 269.16M643.63 272.56L652.46 271.6M644.13 274.89L652.71 274.05M644.35 277.25L652.93 276.5M644.1 279.64L653.13 278.95M644.31 282L653.31 281.41M644.56 284.35L653.45 283.86M644.53 286.72L653.58 286.32M645.03 289.07L653.67 288.78M644.86 291.44L653.74 291.24M645.26 293.8L653.78 293.7M645.22 296.17L653.8 296.16M645.4 298.54L653.79 298.62M644.74 300.9L653.75 301.08M644.57 303.26L653.69 303.54M645.04 305.64L653.61 305.99M644.86 308.01L653.49 308.45M644.96 310.38L653.35 310.91M644.78 312.75L653.18 313.36M644.15 315.07L652.99 315.81M643.71 317.41L652.77 318.27M644.2 319.84L652.53 320.71M643.79 322.18L652.26 323.16M643.05 324.47L651.96 325.6M643.22 326.88L651.64 328.04M642.3 329.14L651.29 330.47M642.41 331.55L650.92 332.91M641.91 333.87L650.52 335.33M641.75 336.24L650.09 337.76M641.23 338.56L649.64 340.17M640.65 340.86L649.16 342.59M640.3 343.2L648.66 345M639.39 345.43L648.13 347.4M639.47 347.88L647.58 349.8M638.38 350.05L647 352.19M637.66 352.31L646.39 354.57M637.47 354.7L645.76 356.95M636.95 357.02L645.11 359.32M636.36 359.31L644.43 361.68M635.71 361.6L643.72 364.04M634.4 363.67L642.99 366.39M633.83 365.97L642.23 368.73M633.58 368.38L641.45 371.06M632.43 370.49L640.65 373.39M631.51 372.68L639.82 375.7M630.93 374.98L638.96 378.01M630.32 377.29L638.08 380.31M629.12 379.37L637.18 382.6M628.29 381.58L636.25 384.87M626.86 383.55L635.3 387.14M626.43 385.94L634.32 389.4M625 387.89L633.32 391.65M624.06 390.06L632.3 393.89M623.29 392.31L631.25 396.11M622.63 394.62L630.18 398.33M621.02 396.47L629.09 400.53M620.52 398.87L627.97 402.72M619.05 400.77L626.83 404.9M618.29 403.06L625.66 407.07M617.15 405.14L624.47 409.22M615.74 407.06L623.26 411.36M614.75 409.22L622.03 413.49M612.9 410.87L620.78 415.61M611.99 413.09L619.5 417.71M610.49 414.94L618.2 419.8M609.18 416.91L616.87 421.87M608.03 418.98L615.53 423.93M606.8 421.01L614.16 425.98M605.6 423.05L612.78 428.01M604.02 424.83L611.37 430.03M602.72 426.81L609.94 432.03M601.7 428.99L608.48 434.01M600.01 430.69L607.01 435.98M598.65 432.63L605.52 437.94M597.13 434.44L604 439.88M595.51 436.18L602.47 441.8M594.03 438.03L600.91 443.7M592.6 439.91L599.34 445.59M590.91 441.58L597.74 447.47M589.34 443.35L596.12 449.32M588.26 445.55L594.49 451.16M586.63 447.28L592.83 452.98M585.08 449.07L591.16 454.78M583.37 450.72L589.47 456.57M581.21 451.92L587.76 458.33M579.96 454.02L586.03 460.08M578.19 455.6L584.28 461.81M576.48 457.23L582.51 463.52M574.7 458.79L580.72 465.22M573.14 460.59L578.92 466.89M571.08 461.85L577.1 468.54M569.58 463.72L575.26 470.18M567.49 464.93L573.4 471.79M565.72 466.49L571.53 473.39M564.36 468.56L569.64 474.96M562.21 469.67L567.74 476.52M560.62 471.47L565.81 478.05M558.31 472.37L563.87 479.57M556.88 474.39L561.92 481.06M554.87 475.66L559.95 482.53M552.7 476.69L557.96 483.98M550.86 478.2L555.96 485.41M548.89 479.5L553.94 486.82M547.06 481.02L551.91 488.21M545.04 482.26L549.87 489.57M543.21 483.79L547.8 490.92M541.09 484.86L545.73 492.24M539.17 486.27L543.64 493.54M536.95 487.18L541.54 494.82M535.18 488.83L539.42 496.07M533.11 489.99L537.29 497.3M531.02 491.11L535.15 498.51M528.8 491.99L533 499.7M526.7 493.07L530.83 500.86M524.84 494.63L528.65 502M522.33 494.91L526.46 503.12M520.27 496.09L524.25 504.22M518.32 497.49L522.04 505.29M516.26 498.67L519.81 506.33M513.86 499.11L517.58 507.36M511.64 499.95L515.33 508.36M509.76 501.55L513.07 509.33M507.37 501.98L510.8 510.28M505.16 502.82L508.52 511.21M502.92 503.59L506.23 512.11M500.95 505.05L503.94 512.99M498.75 505.94L501.63 513.84M496.51 506.7L499.31 514.67M494.25 507.42L496.99 515.48M491.81 507.6L494.65 516.26M489.56 508.32L492.31 517.01M487.42 509.4L489.96 517.74M485.24 510.37L487.61 518.45M482.91 510.83L485.24 519.13M480.65 511.56L482.87 519.78M478.27 511.81L480.49 520.41M475.96 512.33L478.11 521.02M473.65 512.84L475.72 521.59M471.41 513.67L473.32 522.15M469.09 514.16L470.92 522.68M466.77 514.63L468.51 523.18M464.47 515.18L466.1 523.65M462.13 515.53L463.68 524.11M459.76 515.74L461.25 524.53M457.42 516.1L458.83 524.93M455.14 516.8L456.4 525.3M452.76 516.92L453.96 525.65M450.46 517.61L451.52 525.97M448.12 517.98L449.08 526.27M445.73 517.94L446.63 526.54M443.38 518.2L444.19 526.78M441.04 518.7L441.74 527M438.68 518.84L439.28 527.19M436.29 518.69L436.83 527.36M433.9 518.36L434.37 527.5M431.55 518.56L431.91 527.61M429.21 519.37L429.46 527.7M426.83 519.17L427 527.76M424.46 519.16L424.54 527.79M422.09 519.22L422.08 527.8M419.72 519.36L419.62 527.78M417.36 518.91L417.16 527.74M415 518.62L414.7 527.67M412.62 518.94L412.24 527.57M410.25 519L409.78 527.45M407.88 518.93L407.33 527.3M405.51 518.84L404.87 527.13M403.2 517.97L402.42 526.93M400.8 518.23L399.97 526.7M398.49 517.55L397.52 526.45M396.15 517.22L395.08 526.17M393.72 517.56L392.64 525.86M391.38 517.15L390.2 525.53M389.06 516.69L387.77 525.18M386.78 515.92L385.34 524.8M384.45 515.56L382.91 524.39M382.05 515.52L380.49 523.95M379.75 514.95L378.07 523.49M377.41 514.57L375.66 523.01M375.11 513.97L373.25 522.5M372.87 513.17L370.85 521.96M370.45 513.1L368.46 521.4M368.27 512.05L366.07 520.81M366.01 511.37L363.69 520.2M363.65 511.03L361.31 519.56M361.46 510.09L358.94 518.9M359.19 509.44L356.58 518.21M356.72 509.42L354.23 517.49M354.69 508L351.88 516.76M352.22 507.94L349.54 515.99M350.15 506.67L347.21 515.2M347.71 506.47L344.89 514.39M345.54 505.51L342.58 513.55M343.36 504.56L340.27 512.69M341.29 503.37L337.98 511.8M339.04 502.63L335.69 510.89M336.68 502.13L333.42 509.96M334.75 500.63L331.15 509M332.57 499.71L328.9 508.01M330.28 499.04L326.65 507.01M327.96 498.42L324.42 505.98M325.91 497.21L322.2 504.92M323.78 496.17L319.99 503.84M321.71 495L317.79 502.74M319.83 493.5L315.6 501.61M317.59 492.67L313.42 500.47M315.61 491.37L311.26 499.29M313.21 490.81L309.11 498.1M311.23 489.5L306.97 496.88M309.4 487.93L304.85 495.64M307.19 487.02L302.74 494.38M305.12 485.87L300.64 493.09M303.03 484.73L298.55 491.79M301.03 483.46L296.48 490.46M299.23 481.89L294.43 489.11M297.33 480.47L292.39 487.73M295.31 479.23L290.36 486.34M293.46 477.75L288.35 484.92M291.39 476.56L286.35 483.49M289.34 475.36L284.37 482.03M287.8 473.46L282.41 480.55M285.74 472.26L280.46 479.05M283.97 470.68L278.52 477.53M282.06 469.28L276.61 475.98M280.16 467.85L274.71 474.42M278.22 466.48L272.82 472.84M276.57 464.77L270.95 471.24M274.79 463.2L269.1 469.62M272.91 461.75L267.27 467.98M271.11 460.2L265.46 466.32M269.66 458.29L263.66 464.64M267.66 456.95L261.88 462.94M266.5 454.74L260.12 461.22M264.5 453.41L258.38 459.48M262.89 451.66L256.65 457.73M261.3 449.91L254.95 455.95M259.35 448.49L253.26 454.16M257.79 446.7L251.59 452.35M256.66 444.53L249.95 450.53M254.94 442.89L248.32 448.68M253.35 441.14L246.71 446.82M251.72 439.42L245.12 444.94M250.5 437.36L243.55 443.05M248.83 435.66L242 441.14M247.57 433.65L240.47 439.21M246.15 431.76L238.97 437.27M244.76 429.84L237.48 435.31M243.23 428.03L236.01 433.33M241.81 426.15L234.57 431.34M240.28 424.33L233.15 429.33M238.98 422.35L231.74 427.31M237.69 420.36L230.36 425.28M236.34 418.42L229 423.22M235.28 416.29L227.67 421.16M234.05 414.27L226.35 419.08M232.19 412.64L225.06 416.99M231.5 410.29L223.79 414.88M230.2 408.31L222.54 412.76M229 406.27L221.32 410.63M228.09 404.07L220.11 408.48M226.28 402.36L218.93 406.32M225.5 400.09L217.78 404.15M224.33 398.03L216.64 401.97M223.73 395.69L215.53 399.77M222.05 393.87L214.45 397.57M221.35 391.58L213.39 395.35M220 389.6L212.35 393.12M219.53 387.21L211.33 390.88M218.36 385.14L210.34 388.63M217.63 382.88L209.37 386.36M216.36 380.84L208.43 384.09M215.96 378.46L207.51 381.81M214.36 376.54L206.61 379.52M213.71 374.25L205.74 377.22M213.32 371.87L204.89 374.91M212.66 369.6L204.07 372.59M211.81 367.39L203.28 370.26M210.63 365.29L202.5 367.93M209.75 363.08L201.76 365.58M209.59 360.65L201.03 363.23M208.94 358.38L200.34 360.87M207.71 356.26L199.67 358.5M207.85 353.77L199.02 356.13M206.9 351.58L198.4 353.75M205.89 349.39L197.8 351.36M205.73 346.99L197.23 348.97M205.09 344.71L196.68 346.57M204.38 342.44L196.17 344.17M204.59 339.98L195.67 341.76M204.19 337.65L195.2 339.34M203.04 335.45L194.76 336.92M202.93 333.07L194.34 334.5M202.4 330.76L193.95 332.07M202.4 328.36L193.59 329.64M201.57 326.09L193.25 327.2M201.47 323.71L192.93 324.76M201.26 321.35L192.65 322.32M201.06 318.99L192.38 319.87M200.8 316.64L192.15 317.42M200.75 314.27L191.94 314.97M200.88 311.88L191.76 312.52M200.72 309.53L191.6 310.06M200.57 307.17L191.47 307.61M200.4 304.81L191.36 305.15M199.79 302.46L191.28 302.69M199.75 300.09L191.23 300.23M199.92 297.72L191.2 297.77M200.08 295.36L191.2 295.31M200.07 292.99L191.23 292.85M199.89 290.62L191.28 290.39M200.55 288.27L191.36 287.93M200.03 285.88L191.46 285.47M199.9 283.5L191.59 283.02M200.11 281.14L191.75 280.56M200.39 278.78L191.93 278.11M201.06 276.46L192.14 275.66M201.39 274.12L192.38 273.21M200.92 271.69L192.64 270.76M201.37 269.36L192.92 268.32M201.68 267.01L193.24 265.88M202.49 264.73L193.57 263.44M202.94 262.41L193.94 261.01M202.75 259.98L194.33 258.58M203.01 257.62L194.75 256.16M204.2 255.43L195.19 253.74M204.65 253.11L195.66 251.32M204.9 250.75L196.15 248.91M205.19 248.39L196.67 246.51M205.95 246.14L197.21 244.11M206.52 243.84L197.78 241.71M206.86 241.49L198.38 239.33M207.25 239.15L199 236.95M208.1 236.92L199.64 234.57M208.86 234.68L200.32 232.21M209.24 232.32L201.01 229.85M210.2 230.14L201.73 227.49M210.5 227.75L202.48 225.15M211.95 225.74L203.25 222.81M212.07 223.28L204.05 220.49M212.87 221.05L204.87 218.17" stroke="#949494" stroke-width="0.75" fill="none"/>
<path fill="#e0e4f8" d="M210.99 175.86A243.5 243.5 0 0 1 642.83 400.18L632.42 395.28A232 232 0 0 0 220.98 181.55ZM643.9 397.86A243.5 243.5 0 0 1 193.83 212.82L204.63 216.77A232 232 0 0 0 633.44 393.08Z"/>
<path fill="#aac2de" d="M314.23 78.39A243.5 243.5 0 0 1 316.9 77.09L321.89 87.45A232 232 0 0 0 319.34 88.69Z"/>
<path fill="#aac2de" d="M423.35 53A243.5 243.5 0 0 1 425.69 53.02L425.54 64.52A232 232 0 0 0 423.31 64.5Z"/>
<path fill="#aac2de" d="M439.06 53.56A243.5 243.5 0 0 1 489.21 62.32L486.06 73.38A232 232 0 0 0 438.28 65.04Z"/>
<path fill="#f4b0c0" d="M489.21 62.32A243.5 243.5 0 0 1 491.86 63.09L488.59 74.11A232 232 0 0 0 486.06 73.38Z"/>
<path fill="#aac2de" d="M491.86 63.09A243.5 243.5 0 0 1 508.57 68.72L504.51 79.48A232 232 0 0 0 488.59 74.11Z"/>
<path fill="#f4b0c0" d="M508.57 68.72A243.5 243.5 0 0 1 518.03 72.52L513.52 83.1A232 232 0 0 0 504.51 79.48Z"/>
<path fill="#aac2de" d="M518.03 72.52A243.5 243.5 0 0 1 519.98 73.37L515.38 83.9A232 232 0 0 0 513.52 83.1Z"/>
<path fill="#a0f4a0" d="M519.98 73.37A243.5 243.5 0 0 1 525.41 75.81L520.55 86.24A232 232 0 0 0 515.38 83.9Z"/>
<path fill="#a0f4a0" d="M529.24 77.64A243.5 243.5 0 0 1 532.29 79.16L527.1 89.42A232 232 0 0 0 524.2 87.98Z"/>
<path fill="#aac2de" d="M532.29 79.16A243.5 243.5 0 0 1 534.94 80.51L529.63 90.71A232 232 0 0 0 527.1 89.42Z"/>
<path fill="#aac2de" d="M538.69 82.51A243.5 243.5 0 0 1 542.41 84.57L536.74 94.58A232 232 0 0 0 533.2 92.61Z"/>
<path fill="#a0f4a0" d="M542.41 84.57A243.5 243.5 0 0 1 547.18 87.34L541.29 97.22A232 232 0 0 0 536.74 94.58Z"/>
<path fill="#aac2de" d="M547.18 87.34A243.5 243.5 0 0 1 548.82 88.33L542.86 98.16A232 232 0 0 0 541.29 97.22Z"/>
<path fill="#a0f4a0" d="M548.82 88.33A243.5 243.5 0 0 1 551.9 90.23L545.78 99.97A232 232 0 0 0 542.86 98.16Z"/>
<path fill="#aac2de" d="M551.9 90.23A243.5 243.5 0 0 1 562.86 97.53L556.23 106.92A232 232 0 0 0 545.78 99.97Z"/>
<path fill="#aac2de" d="M565.28 99.25A243.5 243.5 0 1 1 185.83 353.76L197.01 351.05A232 232 0 1 0 558.54 108.57Z"/>
<path fill="#e0e4f8" d="M645.12 197.85A243.5 243.5 0 0 1 646.14 200.18L635.58 204.73A232 232 0 0 0 634.61 202.51Z"/>
<path fill="#e0e4f8" d="M656.57 229.38A243.5 243.5 0 0 1 657.26 231.84L646.17 234.89A232 232 0 0 0 645.51 232.55Z"/>
<path fill="#e0e4f8" d="M659.17 239.24A243.5 243.5 0 0 1 659.76 241.72L648.55 244.31A232 232 0 0 0 647.99 241.95Z"/>
<path fill="#e0e4f8" d="M629.9 424.09A243.5 243.5 0 0 1 628.55 426.26L618.82 420.13A232 232 0 0 0 620.1 418.06Z"/>
<path fill="#a0f4a0" d="M628.55 426.26A243.5 243.5 0 0 1 625.55 430.9L615.96 424.55A232 232 0 0 0 618.82 420.13Z"/>
<path fill="#a0f4a0" d="M506.98 524.88A243.5 243.5 0 0 1 495.72 528.73L492.26 517.76A232 232 0 0 0 502.99 514.09Z"/>
<path fill="#e0e4f8" d="M490.03 530.45A243.5 243.5 0 0 1 484.7 531.92L481.76 520.8A232 232 0 0 0 486.84 519.4Z"/>
<path fill="#f4b0c0" d="M484.7 531.92A243.5 243.5 0 0 1 474.79 534.32L472.32 523.09A232 232 0 0 0 481.76 520.8Z"/>
<path fill="#e0e4f8" d="M419.1 539.98A243.5 243.5 0 0 1 415.91 539.91L416.22 528.42A232 232 0 0 0 419.26 528.48Z"/>
<path fill="#e0e4f8" d="M348.47 528.47A243.5 243.5 0 0 1 345.64 527.55L349.27 516.64A232 232 0 0 0 351.96 517.52Z"/>
<path fill="#a0f4a0" d="M334.44 523.52A243.5 243.5 0 0 1 330.5 521.95L334.84 511.3A232 232 0 0 0 338.6 512.8Z"/>
<path fill="#a0f4a0" d="M316.52 515.73A243.5 243.5 0 0 1 312.33 513.65L317.54 503.4A232 232 0 0 0 321.53 505.37Z"/>
<path fill="#a0f4a0" d="M225.5 439.63A243.5 243.5 0 0 1 224.02 437.55L233.39 430.89A232 232 0 0 0 234.81 432.87Z"/>
<path fill="#a0f4a0" d="M191.58 373.76A243.5 243.5 0 0 1 190.79 371.34L201.73 367.81A232 232 0 0 0 202.49 370.11Z"/>
<path fill="#a0f4a0" d="M185.43 352.1A243.5 243.5 0 0 1 184.5 347.96L195.74 345.53A232 232 0 0 0 196.63 349.48Z"/>
<path fill="#aac2de" d="M184.5 347.96A243.5 243.5 0 0 1 181.08 328.28L192.48 326.78A232 232 0 0 0 195.74 345.53Z"/>
<path fill="#f4b0c0" d="M180.82 326.18A243.5 243.5 0 0 1 180.52 323.64L191.95 322.36A232 232 0 0 0 192.23 324.77Z"/>
<path fill="#aac2de" d="M179 295.44A243.5 243.5 0 0 1 179.07 290.55L190.57 290.83A232 232 0 0 0 190.5 295.49Z"/>
<path fill="#a0f4a0" d="M179.27 285.03A243.5 243.5 0 0 1 179.38 282.91L190.86 283.55A232 232 0 0 0 190.76 285.57Z"/>
<path fill="#aac2de" d="M179.38 282.91A243.5 243.5 0 0 1 193.83 212.82L204.63 216.77A232 232 0 0 0 190.86 283.55Z"/>
<path fill="#a0f4a0" d="M180.16 272.74A243.5 243.5 0 0 1 180.52 269.36L191.95 270.64A232 232 0 0 0 191.61 273.86Z"/>
<path fill="#a0f4a0" d="M182.13 257.57A243.5 243.5 0 0 1 182.63 254.64L193.95 256.61A232 232 0 0 0 193.48 259.41Z"/>
<path fill="#a0f4a0" d="M192.83 215.62A243.5 243.5 0 0 1 193.83 212.82L204.63 216.77A232 232 0 0 0 203.67 219.44Z"/>
<path fill="#d3d3d3" d="M201.35 170.36A254.6 254.6 0 0 1 652.87 404.9L642.83 400.18A243.5 243.5 0 0 0 210.99 175.86ZM653.99 402.49A254.6 254.6 0 0 1 183.41 209L193.83 212.82A243.5 243.5 0 0 0 643.9 397.86Z"/>
<path fill="#cce8b0" d="M342.56 54.78A254.6 254.6 0 0 1 349.34 52.64L352.53 63.27A243.5 243.5 0 0 0 346.04 65.31Z"/>
<path fill="#cce8b0" d="M385.31 44.63A254.6 254.6 0 0 1 388.83 44.14L390.3 55.14A243.5 243.5 0 0 0 386.93 55.61Z"/>
<path fill="#cce8b0" d="M438.93 42.43A254.6 254.6 0 0 1 442.03 42.65L441.18 53.72A243.5 243.5 0 0 0 438.21 53.51Z"/>
<path fill="#cce8b0" d="M444.25 42.83A254.6 254.6 0 0 1 473.69 47.1L471.46 57.97A243.5 243.5 0 0 0 443.3 53.89Z"/>
<path fill="#cce8b0" d="M475.87 47.56A254.6 254.6 0 0 1 478.47 48.13L476.03 58.96A243.5 243.5 0 0 0 473.54 58.41Z"/>
<path fill="#cce8b0" d="M480.64 48.63A254.6 254.6 0 0 1 488.4 50.58L485.52 61.3A243.5 243.5 0 0 0 478.1 59.43Z"/>
<path fill="#cce8b0" d="M491.18 51.34A254.6 254.6 0 0 1 529.29 65.38L524.64 75.46A243.5 243.5 0 0 0 488.19 62.03Z"/>
<path fill="#cce8b0" d="M532.91 67.09A254.6 254.6 0 0 1 537.29 69.25L532.29 79.16A243.5 243.5 0 0 0 528.1 77.09Z"/>
<path fill="#cce8b0" d="M539.27 70.26A254.6 254.6 0 1 1 217.84 447.94L226.76 441.34A243.5 243.5 0 1 0 534.18 80.12Z"/>
<path fill="#d3d3d3" d="M579.95 96.42A254.6 254.6 0 0 1 582.72 98.64L575.74 107.26A243.5 243.5 0 0 0 573.08 105.14Z"/>
<path fill="#d3d3d3" d="M588.52 103.48A254.6 254.6 0 0 1 590.54 105.23L583.21 113.57A243.5 243.5 0 0 0 581.29 111.89Z"/>
<path fill="#d3d3d3" d="M607.94 122.05A254.6 254.6 0 0 1 609.91 124.17L601.74 131.68A243.5 243.5 0 0 0 599.86 129.66Z"/>
<path fill="#d3d3d3" d="M667.24 226.32A254.6 254.6 0 0 1 667.96 228.89L657.26 231.84A243.5 243.5 0 0 0 656.57 229.38Z"/>
<path fill="#d3d3d3" d="M672.84 250.1A254.6 254.6 0 0 1 673.31 252.73L662.37 254.64A243.5 243.5 0 0 0 661.92 252.13Z"/>
<path fill="#d3d3d3" d="M591.54 486.89A254.6 254.6 0 0 1 589.53 488.65L582.25 480.27A243.5 243.5 0 0 0 584.17 478.59Z"/>
<path fill="#d3d3d3" d="M565.97 506.82A254.6 254.6 0 0 1 563.76 508.32L557.6 499.08A243.5 243.5 0 0 0 559.72 497.65Z"/>
<path fill="#d3d3d3" d="M415.39 551A254.6 254.6 0 0 1 410.95 550.84L411.45 539.75A243.5 243.5 0 0 0 415.7 539.91Z"/>
<path fill="#d3d3d3" d="M397.21 549.84A254.6 254.6 0 0 1 394.12 549.51L395.36 538.48A243.5 243.5 0 0 0 398.32 538.8Z"/>
<path fill="#d3d3d3" d="M289.09 513.35A254.6 254.6 0 0 1 286.83 511.94L292.74 502.55A243.5 243.5 0 0 0 294.91 503.9Z"/>
<path fill="#d3d3d3" d="M229.77 462.86A254.6 254.6 0 0 1 228.04 460.83L236.52 453.67A243.5 243.5 0 0 0 238.17 455.61Z"/>
<path fill="#cce8b0" d="M214.71 443.62A254.6 254.6 0 0 1 212.93 441.07L222.07 434.77A243.5 243.5 0 0 0 223.77 437.21Z"/>
<path fill="#cce8b0" d="M211.43 438.87A254.6 254.6 0 0 1 176.12 360.68L186.86 357.88A243.5 243.5 0 0 0 220.63 432.66Z"/>
<path fill="#cce8b0" d="M175.68 358.96A254.6 254.6 0 0 1 175.14 356.8L185.93 354.17A243.5 243.5 0 0 0 186.44 356.23Z"/>
<path fill="#cce8b0" d="M174.63 354.64A254.6 254.6 0 0 1 173.84 351.17L184.68 348.79A243.5 243.5 0 0 0 185.43 352.1Z"/>
<path fill="#cce8b0" d="M173.37 349A254.6 254.6 0 0 1 170.2 330.61L181.2 329.13A243.5 243.5 0 0 0 184.23 346.71Z"/>
<path fill="#d3d3d3" d="M171.77 340.71A254.6 254.6 0 0 1 171.39 338.52L182.34 336.69A243.5 243.5 0 0 0 182.7 338.78Z"/>
<path fill="#cce8b0" d="M167.9 295.61A254.6 254.6 0 0 1 167.99 289.84L179.08 290.13A243.5 243.5 0 0 0 179 295.65Z"/>
<path fill="#cce8b0" d="M168.06 287.61A254.6 254.6 0 0 1 170.14 262.83L181.14 264.3A243.5 243.5 0 0 0 179.15 288Z"/>
<path fill="#cce8b0" d="M170.44 260.63A254.6 254.6 0 0 1 179.16 221.64L189.76 224.9A243.5 243.5 0 0 0 181.43 262.19Z"/>
<path fill="#cce8b0" d="M179.82 219.52A254.6 254.6 0 0 1 183.41 209L193.83 212.82A243.5 243.5 0 0 0 190.4 222.87Z"/>
<path fill="#9c88cc" d="M191.79 164.91A265.6 265.6 0 0 1 662.82 409.59L652.78 404.86A254.5 254.5 0 0 0 201.43 170.41ZM663.99 407.06A265.6 265.6 0 0 1 173.08 205.22L183.5 209.04A254.5 254.5 0 0 0 653.9 402.44Z"/>
<path fill="#b8a4d8" d="M215.51 130.07A265.6 265.6 0 0 1 217.26 127.92L225.84 134.96A254.5 254.5 0 0 0 224.16 137.03Z"/>
<path fill="#b8a4d8" d="M225.12 118.78A265.6 265.6 0 0 1 226.99 116.72L235.16 124.24A254.5 254.5 0 0 0 233.37 126.21Z"/>
<path fill="#b8a4d8" d="M294.55 63.75A265.6 265.6 0 0 1 296.99 62.43L302.24 72.21A254.5 254.5 0 0 0 299.89 73.48Z"/>
<path fill="#b8a4d8" d="M316.17 53.11A265.6 265.6 0 0 1 319.15 51.83L323.47 62.06A254.5 254.5 0 0 0 320.61 63.29Z"/>
<path fill="#d0c4e4" d="M323 50.24A265.6 265.6 0 0 1 325.16 49.38L329.23 59.71A254.5 254.5 0 0 0 327.16 60.53Z"/>
<path fill="#b8a4d8" d="M325.16 49.38A265.6 265.6 0 0 1 332.53 46.6L336.29 57.05A254.5 254.5 0 0 0 329.23 59.71Z"/>
<path fill="#b8a4d8" d="M339.98 44.04A265.6 265.6 0 0 1 346.18 42.1L349.37 52.73A254.5 254.5 0 0 0 343.43 54.59Z"/>
<path fill="#b8a4d8" d="M350.18 40.93A265.6 265.6 0 0 1 354.65 39.71L357.49 50.44A254.5 254.5 0 0 0 353.2 51.62Z"/>
<path fill="#b8a4d8" d="M357.8 38.9A265.6 265.6 0 0 1 369.09 36.32L371.33 47.2A254.5 254.5 0 0 0 360.5 49.67Z"/>
<path fill="#d0c4e4" d="M369.09 36.32A265.6 265.6 0 0 1 371.37 35.87L373.5 46.76A254.5 254.5 0 0 0 371.33 47.2Z"/>
<path fill="#b8a4d8" d="M371.37 35.87A265.6 265.6 0 0 1 379.12 34.47L380.93 45.42A254.5 254.5 0 0 0 373.5 46.76Z"/>
<path fill="#d0c4e4" d="M381.87 34.03A265.6 265.6 0 0 1 384.16 33.68L385.76 44.67A254.5 254.5 0 0 0 383.57 45Z"/>
<path fill="#d0c4e4" d="M387.37 33.23A265.6 265.6 0 0 1 389.67 32.94L391.04 43.95A254.5 254.5 0 0 0 388.84 44.24Z"/>
<path fill="#b8a4d8" d="M389.67 32.94A265.6 265.6 0 0 1 392.89 32.56L394.13 43.59A254.5 254.5 0 0 0 391.04 43.95Z"/>
<path fill="#d0c4e4" d="M392.89 32.56A265.6 265.6 0 0 1 395.66 32.26L396.78 43.3A254.5 254.5 0 0 0 394.13 43.59Z"/>
<path fill="#b8a4d8" d="M395.66 32.26A265.6 265.6 0 0 1 398.2 32.01L399.21 43.07A254.5 254.5 0 0 0 396.78 43.3Z"/>
<path fill="#d0c4e4" d="M398.2 32.01A265.6 265.6 0 0 1 400.51 31.81L401.43 42.87A254.5 254.5 0 0 0 399.21 43.07Z"/>
<path fill="#b8a4d8" d="M400.51 31.81A265.6 265.6 0 0 1 402.82 31.63L403.64 42.7A254.5 254.5 0 0 0 401.43 42.87Z"/>
<path fill="#e4d8ec" d="M402.82 31.63A265.6 265.6 0 0 1 409.06 31.24L409.62 42.33A254.5 254.5 0 0 0 403.64 42.7Z"/>
<path fill="#b8a4d8" d="M409.06 31.24A265.6 265.6 0 0 1 417.86 30.94L418.06 42.04A254.5 254.5 0 0 0 409.62 42.33Z"/>
<path fill="#d0c4e4" d="M417.86 30.94A265.6 265.6 0 0 1 419.49 30.92L419.61 42.02A254.5 254.5 0 0 0 418.06 42.04Z"/>
<path fill="#ffffff" d="M419.49 30.92A265.6 265.6 0 0 1 423.2 30.9L423.17 42A254.5 254.5 0 0 0 419.61 42.02Z"/>
<path fill="#b8a4d8" d="M423.2 30.9A265.6 265.6 0 0 1 428.76 30.97L428.5 42.07A254.5 254.5 0 0 0 423.17 42Z"/>
<path fill="#ffffff" d="M428.76 30.97A265.6 265.6 0 0 1 431.77 31.06L431.38 42.16A254.5 254.5 0 0 0 428.5 42.07Z"/>
<path fill="#b8a4d8" d="M434.09 31.15A265.6 265.6 0 0 1 436.86 31.29L436.26 42.37A254.5 254.5 0 0 0 433.6 42.24Z"/>
<path fill="#ffffff" d="M436.86 31.29A265.6 265.6 0 0 1 440.56 31.52L439.81 42.59A254.5 254.5 0 0 0 436.26 42.37Z"/>
<path fill="#b8a4d8" d="M440.56 31.52A265.6 265.6 0 0 1 473.18 35.78L471.06 46.68A254.5 254.5 0 0 0 439.81 42.59Z"/>
<path fill="#ffffff" d="M473.18 35.78A265.6 265.6 0 0 1 478.63 36.9L476.28 47.75A254.5 254.5 0 0 0 471.06 46.68Z"/>
<path fill="#ffffff" d="M481.8 37.6A265.6 265.6 0 0 1 484.95 38.35L482.34 49.14A254.5 254.5 0 0 0 479.32 48.42Z"/>
<path fill="#d0c4e4" d="M484.95 38.35A265.6 265.6 0 0 1 488.1 39.13L485.36 49.89A254.5 254.5 0 0 0 482.34 49.14Z"/>
<path fill="#e4d8ec" d="M488.1 39.13A265.6 265.6 0 0 1 489.9 39.59L487.08 50.33A254.5 254.5 0 0 0 485.36 49.89Z"/>
<path fill="#b8a4d8" d="M489.9 39.59A265.6 265.6 0 0 1 491.24 39.95L488.37 50.67A254.5 254.5 0 0 0 487.08 50.33Z"/>
<path fill="#d0c4e4" d="M491.24 39.95A265.6 265.6 0 0 1 494.37 40.81L491.37 51.49A254.5 254.5 0 0 0 488.37 50.67Z"/>
<path fill="#d0c4e4" d="M497.27 41.64A265.6 265.6 0 0 1 499.71 42.37L496.48 52.99A254.5 254.5 0 0 0 494.14 52.29Z"/>
<path fill="#b8a4d8" d="M499.71 42.37A265.6 265.6 0 0 1 505.02 44.04L501.57 54.59A254.5 254.5 0 0 0 496.48 52.99Z"/>
<path fill="#ffffff" d="M505.02 44.04A265.6 265.6 0 0 1 508.53 45.22L504.94 55.72A254.5 254.5 0 0 0 501.57 54.59Z"/>
<path fill="#b8a4d8" d="M508.53 45.22A265.6 265.6 0 0 1 517.68 48.54L513.7 58.9A254.5 254.5 0 0 0 504.94 55.72Z"/>
<path fill="#ffffff" d="M517.68 48.54A265.6 265.6 0 0 1 520.7 49.72L516.6 60.04A254.5 254.5 0 0 0 513.7 58.9Z"/>
<path fill="#b8a4d8" d="M520.7 49.72A265.6 265.6 0 0 1 529.26 53.3L524.8 63.46A254.5 254.5 0 0 0 516.6 60.04Z"/>
<path fill="#d0c4e4" d="M529.26 53.3A265.6 265.6 0 0 1 536.01 56.38L531.26 66.41A254.5 254.5 0 0 0 524.8 63.46Z"/>
<path fill="#d0c4e4" d="M539.35 57.98A265.6 265.6 0 0 1 541.84 59.22L536.85 69.14A254.5 254.5 0 0 0 534.46 67.95Z"/>
<path fill="#ffffff" d="M541.84 59.22A265.6 265.6 0 0 1 544.73 60.7L539.62 70.55A254.5 254.5 0 0 0 536.85 69.14Z"/>
<path fill="#ffffff" d="M550.05 63.53A265.6 265.6 0 0 1 554.5 66.02L548.98 75.65A254.5 254.5 0 0 0 544.72 73.27Z"/>
<path fill="#d0c4e4" d="M557.7 67.89A265.6 265.6 0 0 1 561.28 70.04L555.48 79.5A254.5 254.5 0 0 0 552.05 77.44Z"/>
<path fill="#b8a4d8" d="M580.48 83A265.6 265.6 0 0 1 590.37 90.67L583.35 99.28A254.5 254.5 0 0 0 573.88 91.92Z"/>
<path fill="#d0c4e4" d="M590.37 90.67A265.6 265.6 0 0 1 592.16 92.15L585.07 100.69A254.5 254.5 0 0 0 583.35 99.28Z"/>
<path fill="#b8a4d8" d="M592.16 92.15A265.6 265.6 0 0 1 597.1 96.35L589.8 104.72A254.5 254.5 0 0 0 585.07 100.69Z"/>
<path fill="#d0c4e4" d="M597.1 96.35A265.6 265.6 0 0 1 599.88 98.81L592.46 107.07A254.5 254.5 0 0 0 589.8 104.72Z"/>
<path fill="#b8a4d8" d="M610.64 109.02A265.6 265.6 0 0 1 660.81 179.24L650.85 184.14A254.5 254.5 0 0 0 602.77 116.86Z"/>
<path fill="#b8a4d8" d="M661.83 181.32A265.6 265.6 0 0 1 663.02 183.83L652.97 188.54A254.5 254.5 0 0 0 651.82 186.13Z"/>
<path fill="#b8a4d8" d="M666.07 190.59A265.6 265.6 0 0 1 667.17 193.15L656.94 197.47A254.5 254.5 0 0 0 655.89 195.02Z"/>
<path fill="#d0c4e4" d="M672.71 207.4A265.6 265.6 0 0 1 673.63 210.03L663.13 213.64A254.5 254.5 0 0 0 662.25 211.13Z"/>
<path fill="#ffffff" d="M675.24 214.87A265.6 265.6 0 0 1 677.29 221.51L666.65 224.64A254.5 254.5 0 0 0 664.68 218.28Z"/>
<path fill="#b8a4d8" d="M677.29 221.51A265.6 265.6 0 0 1 678.32 225.07L667.62 228.06A254.5 254.5 0 0 0 666.65 224.64Z"/>
<path fill="#ffffff" d="M678.32 225.07A265.6 265.6 0 0 1 681.8 239.01L670.97 241.42A254.5 254.5 0 0 0 667.62 228.06Z"/>
<path fill="#b8a4d8" d="M681.8 239.01A265.6 265.6 0 0 1 684.61 253.58L673.65 255.37A254.5 254.5 0 0 0 670.97 241.42Z"/>
<path fill="#ffffff" d="M684.61 253.58A265.6 265.6 0 0 1 685.04 256.33L674.07 258A254.5 254.5 0 0 0 673.65 255.37Z"/>
<path fill="#b8a4d8" d="M685.04 256.33A265.6 265.6 0 0 1 687.05 272.89L675.99 273.88A254.5 254.5 0 0 0 674.07 258Z"/>
<path fill="#ffffff" d="M687.05 272.89A265.6 265.6 0 0 1 687.92 286.77L676.83 287.17A254.5 254.5 0 0 0 675.99 273.88Z"/>
<path fill="#b8a4d8" d="M687.92 286.77A265.6 265.6 0 0 1 687.82 308.78L676.73 308.27A254.5 254.5 0 0 0 676.83 287.17Z"/>
<path fill="#ffffff" d="M687.82 308.78A265.6 265.6 0 0 1 687.62 312.48L676.54 311.82A254.5 254.5 0 0 0 676.73 308.27Z"/>
<path fill="#ffffff" d="M687.46 314.89A265.6 265.6 0 0 1 687.24 317.89L676.17 317A254.5 254.5 0 0 0 676.39 314.12Z"/>
<path fill="#b8a4d8" d="M687.24 317.89A265.6 265.6 0 0 1 686.96 321.03L675.91 320.01A254.5 254.5 0 0 0 676.17 317Z"/>
<path fill="#ffffff" d="M686.44 326.11A265.6 265.6 0 0 1 686.01 329.79L674.99 328.4A254.5 254.5 0 0 0 675.41 324.87Z"/>
<path fill="#b8a4d8" d="M686.01 329.79A265.6 265.6 0 0 1 683.65 344.9L672.74 342.88A254.5 254.5 0 0 0 674.99 328.4Z"/>
<path fill="#ffffff" d="M683.65 344.9A265.6 265.6 0 0 1 683.09 347.86L672.2 345.71A254.5 254.5 0 0 0 672.74 342.88Z"/>
<path fill="#b8a4d8" d="M683.09 347.86A265.6 265.6 0 0 1 681.29 356.25L670.48 353.75A254.5 254.5 0 0 0 672.2 345.71Z"/>
<path fill="#ffffff" d="M681.29 356.25A265.6 265.6 0 0 1 679.87 362.1L669.11 359.36A254.5 254.5 0 0 0 670.48 353.75Z"/>
<path fill="#b8a4d8" d="M678.44 367.48A265.6 265.6 0 0 1 673.78 382.53L663.28 378.94A254.5 254.5 0 0 0 667.74 364.51Z"/>
<path fill="#ffffff" d="M673.78 382.53A265.6 265.6 0 0 1 672.16 387.12L661.73 383.34A254.5 254.5 0 0 0 663.28 378.94Z"/>
<path fill="#b8a4d8" d="M672.16 387.12A265.6 265.6 0 0 1 640.46 448.27L631.36 441.93A254.5 254.5 0 0 0 661.73 383.34Z"/>
<path fill="#ffffff" d="M670.79 390.82A265.6 265.6 0 0 1 669.79 393.41L659.45 389.36A254.5 254.5 0 0 0 660.41 386.87Z"/>
<path fill="#ffffff" d="M663.22 408.75A265.6 265.6 0 0 1 662.03 411.26L652.02 406.47A254.5 254.5 0 0 0 653.16 404.06Z"/>
<path fill="#ffffff" d="M652.75 428.9A265.6 265.6 0 0 1 651.11 431.7L641.56 426.05A254.5 254.5 0 0 0 643.13 423.37Z"/>
<path fill="#d0c4e4" d="M646.75 438.82A265.6 265.6 0 0 1 645.25 441.16L635.94 435.11A254.5 254.5 0 0 0 637.38 432.87Z"/>
<path fill="#d0c4e4" d="M640.46 448.27A265.6 265.6 0 0 1 634.34 456.71L625.49 450.02A254.5 254.5 0 0 0 631.36 441.93Z"/>
<path fill="#ffffff" d="M634.34 456.71A265.6 265.6 0 0 1 630.07 462.2L621.4 455.28A254.5 254.5 0 0 0 625.49 450.02Z"/>
<path fill="#b8a4d8" d="M630.07 462.2A265.6 265.6 0 0 1 617.06 477.3L608.93 469.74A254.5 254.5 0 0 0 621.4 455.28Z"/>
<path fill="#ffffff" d="M617.06 477.3A265.6 265.6 0 0 1 610.31 484.31L602.46 476.46A254.5 254.5 0 0 0 608.93 469.74Z"/>
<path fill="#ffffff" d="M601.59 492.63A265.6 265.6 0 0 1 594.64 498.76L587.45 490.31A254.5 254.5 0 0 0 594.11 484.44Z"/>
<path fill="#b8a4d8" d="M594.64 498.76A265.6 265.6 0 0 1 588.2 504.07L581.28 495.4A254.5 254.5 0 0 0 587.45 490.31Z"/>
<path fill="#ffffff" d="M588.2 504.07A265.6 265.6 0 0 1 582.34 508.62L575.66 499.75A254.5 254.5 0 0 0 581.28 495.4Z"/>
<path fill="#b8a4d8" d="M582.34 508.62A265.6 265.6 0 0 1 578.24 511.65L571.73 502.66A254.5 254.5 0 0 0 575.66 499.75Z"/>
<path fill="#ffffff" d="M578.24 511.65A265.6 265.6 0 0 1 575.22 513.8L568.84 504.72A254.5 254.5 0 0 0 571.73 502.66Z"/>
<path fill="#b8a4d8" d="M575.22 513.8A265.6 265.6 0 0 1 571.41 516.43L565.18 507.24A254.5 254.5 0 0 0 568.84 504.72Z"/>
<path fill="#ffffff" d="M571.41 516.43A265.6 265.6 0 0 1 566.77 519.5L560.74 510.18A254.5 254.5 0 0 0 565.18 507.24Z"/>
<path fill="#b8a4d8" d="M566.77 519.5A265.6 265.6 0 0 1 531.8 538.57L527.23 528.45A254.5 254.5 0 0 0 560.74 510.18Z"/>
<path fill="#ffffff" d="M531.8 538.57A265.6 265.6 0 0 1 528.41 540.07L523.98 529.89A254.5 254.5 0 0 0 527.23 528.45Z"/>
<path fill="#b8a4d8" d="M528.41 540.07A265.6 265.6 0 0 1 526.7 540.8L522.35 530.59A254.5 254.5 0 0 0 523.98 529.89Z"/>
<path fill="#ffffff" d="M526.7 540.8A265.6 265.6 0 0 1 489.45 553.52L486.65 542.78A254.5 254.5 0 0 0 522.35 530.59Z"/>
<path fill="#b8a4d8" d="M489.45 553.52A265.6 265.6 0 0 1 476.36 556.58L474.11 545.71A254.5 254.5 0 0 0 486.65 542.78Z"/>
<path fill="#ffffff" d="M476.36 556.58A265.6 265.6 0 0 1 465.42 558.61L463.63 547.65A254.5 254.5 0 0 0 474.11 545.71Z"/>
<path fill="#b8a4d8" d="M465.42 558.61A265.6 265.6 0 0 1 460.38 559.38L458.8 548.4A254.5 254.5 0 0 0 463.63 547.65Z"/>
<path fill="#ffffff" d="M460.38 559.38A265.6 265.6 0 0 1 448.88 560.79L447.78 549.74A254.5 254.5 0 0 0 458.8 548.4Z"/>
<path fill="#b8a4d8" d="M448.88 560.79A265.6 265.6 0 0 1 429.92 562L429.61 550.9A254.5 254.5 0 0 0 447.78 549.74Z"/>
<path fill="#ffffff" d="M429.92 562A265.6 265.6 0 0 1 409.99 561.81L410.51 550.72A254.5 254.5 0 0 0 429.61 550.9Z"/>
<path fill="#b8a4d8" d="M409.99 561.81A265.6 265.6 0 0 1 407.67 561.69L408.29 550.6A254.5 254.5 0 0 0 410.51 550.72Z"/>
<path fill="#ffffff" d="M407.67 561.69A265.6 265.6 0 0 1 401.66 561.28L402.53 550.22A254.5 254.5 0 0 0 408.29 550.6Z"/>
<path fill="#b8a4d8" d="M401.66 561.28A265.6 265.6 0 0 1 398.43 561.01L399.43 549.95A254.5 254.5 0 0 0 402.53 550.22Z"/>
<path fill="#ffffff" d="M398.43 561.01A265.6 265.6 0 0 1 377.29 558.22L379.18 547.29A254.5 254.5 0 0 0 399.43 549.95Z"/>
<path fill="#b8a4d8" d="M377.29 558.22A265.6 265.6 0 0 1 367.73 556.39L370.02 545.53A254.5 254.5 0 0 0 379.18 547.29Z"/>
<path fill="#ffffff" d="M367.73 556.39A265.6 265.6 0 0 1 362.3 555.19L364.82 544.38A254.5 254.5 0 0 0 370.02 545.53Z"/>
<path fill="#b8a4d8" d="M362.3 555.19A265.6 265.6 0 0 1 360.95 554.87L363.52 544.07A254.5 254.5 0 0 0 364.82 544.38Z"/>
<path fill="#ffffff" d="M360.95 554.87A265.6 265.6 0 0 1 358.25 554.21L360.93 543.44A254.5 254.5 0 0 0 363.52 544.07Z"/>
<path fill="#b8a4d8" d="M358.25 554.21A265.6 265.6 0 0 1 354.21 553.17L357.06 542.44A254.5 254.5 0 0 0 360.93 543.44Z"/>
<path fill="#ffffff" d="M354.21 553.17A265.6 265.6 0 0 1 351.97 552.56L354.92 541.86A254.5 254.5 0 0 0 357.06 542.44Z"/>
<path fill="#b8a4d8" d="M351.97 552.56A265.6 265.6 0 0 1 346.62 551.03L349.79 540.39A254.5 254.5 0 0 0 354.92 541.86Z"/>
<path fill="#ffffff" d="M346.62 551.03A265.6 265.6 0 0 1 338.22 548.37L341.75 537.85A254.5 254.5 0 0 0 349.79 540.39Z"/>
<path fill="#b8a4d8" d="M338.22 548.37A265.6 265.6 0 0 1 330.79 545.76L334.62 535.35A254.5 254.5 0 0 0 341.75 537.85Z"/>
<path fill="#d0c4e4" d="M330.79 545.76A265.6 265.6 0 0 1 327.32 544.46L331.3 534.1A254.5 254.5 0 0 0 334.62 535.35Z"/>
<path fill="#b8a4d8" d="M327.32 544.46A265.6 265.6 0 0 1 324.3 543.28L328.4 532.96A254.5 254.5 0 0 0 331.3 534.1Z"/>
<path fill="#ffffff" d="M324.3 543.28A265.6 265.6 0 0 1 320.86 541.88L325.11 531.63A254.5 254.5 0 0 0 328.4 532.96Z"/>
<path fill="#d0c4e4" d="M320.86 541.88A265.6 265.6 0 0 1 317.87 540.62L322.24 530.42A254.5 254.5 0 0 0 325.11 531.63Z"/>
<path fill="#ffffff" d="M317.87 540.62A265.6 265.6 0 0 1 313.62 538.76L318.17 528.63A254.5 254.5 0 0 0 322.24 530.42Z"/>
<path fill="#b8a4d8" d="M313.62 538.76A265.6 265.6 0 0 1 306.07 535.22L310.93 525.24A254.5 254.5 0 0 0 318.17 528.63Z"/>
<path fill="#d0c4e4" d="M306.07 535.22A265.6 265.6 0 0 1 297.81 531.01L303.02 521.21A254.5 254.5 0 0 0 310.93 525.24Z"/>
<path fill="#b8a4d8" d="M297.81 531.01A265.6 265.6 0 0 1 284.52 523.44L290.28 513.96A254.5 254.5 0 0 0 303.02 521.21Z"/>
<path fill="#ffffff" d="M284.52 523.44A265.6 265.6 0 0 1 280.58 521L286.51 511.62A254.5 254.5 0 0 0 290.28 513.96Z"/>
<path fill="#b8a4d8" d="M280.58 521A265.6 265.6 0 0 1 277.84 519.25L283.89 509.94A254.5 254.5 0 0 0 286.51 511.62Z"/>
<path fill="#ffffff" d="M277.84 519.25A265.6 265.6 0 0 1 264.52 510L271.12 501.08A254.5 254.5 0 0 0 283.89 509.94Z"/>
<path fill="#b8a4d8" d="M264.52 510A265.6 265.6 0 0 1 255.89 503.35L262.86 494.7A254.5 254.5 0 0 0 271.12 501.08Z"/>
<path fill="#ffffff" d="M255.89 503.35A265.6 265.6 0 0 1 252.84 500.85L259.93 492.31A254.5 254.5 0 0 0 262.86 494.7Z"/>
<path fill="#b8a4d8" d="M252.84 500.85A265.6 265.6 0 0 1 233.71 483.32L241.6 475.51A254.5 254.5 0 0 0 259.93 492.31Z"/>
<path fill="#ffffff" d="M233.71 483.32A265.6 265.6 0 0 1 230.16 479.66L238.2 472.01A254.5 254.5 0 0 0 241.6 475.51Z"/>
<path fill="#b8a4d8" d="M230.16 479.66A265.6 265.6 0 0 1 221.14 469.7L229.55 462.46A254.5 254.5 0 0 0 238.2 472.01Z"/>
<path fill="#ffffff" d="M221.14 469.7A265.6 265.6 0 0 1 212.35 458.92L221.13 452.13A254.5 254.5 0 0 0 229.55 462.46Z"/>
<path fill="#b8a4d8" d="M212.35 458.92A265.6 265.6 0 0 1 209.83 455.6L218.71 448.95A254.5 254.5 0 0 0 221.13 452.13Z"/>
<path fill="#ffffff" d="M209.83 455.6A265.6 265.6 0 0 1 201.02 443.09L210.28 436.97A254.5 254.5 0 0 0 218.71 448.95Z"/>
<path fill="#b8a4d8" d="M201.02 443.09A265.6 265.6 0 0 1 198.5 439.21L207.86 433.24A254.5 254.5 0 0 0 210.28 436.97Z"/>
<path fill="#ffffff" d="M198.5 439.21A265.6 265.6 0 0 1 187.02 419.35L196.86 414.21A254.5 254.5 0 0 0 207.86 433.24Z"/>
<path fill="#b8a4d8" d="M187.02 419.35A265.6 265.6 0 0 1 185.43 416.25L195.34 411.25A254.5 254.5 0 0 0 196.86 414.21Z"/>
<path fill="#ffffff" d="M185.43 416.25A265.6 265.6 0 0 1 183.38 412.1L193.37 407.27A254.5 254.5 0 0 0 195.34 411.25Z"/>
<path fill="#b8a4d8" d="M183.38 412.1A265.6 265.6 0 0 1 173.4 388.65L183.81 384.8A254.5 254.5 0 0 0 193.37 407.27Z"/>
<path fill="#ffffff" d="M173.4 388.65A265.6 265.6 0 0 1 170.19 379.46L180.73 375.99A254.5 254.5 0 0 0 183.81 384.8Z"/>
<path fill="#d0c4e4" d="M170.19 379.46A265.6 265.6 0 0 1 169.76 378.13L180.32 374.72A254.5 254.5 0 0 0 180.73 375.99Z"/>
<path fill="#ffffff" d="M169.76 378.13A265.6 265.6 0 0 1 168.64 374.6L179.25 371.33A254.5 254.5 0 0 0 180.32 374.72Z"/>
<path fill="#d0c4e4" d="M168.64 374.6A265.6 265.6 0 0 1 166.31 366.58L177.02 363.66A254.5 254.5 0 0 0 179.25 371.33Z"/>
<path fill="#e4d8ec" d="M166.31 366.58A265.6 265.6 0 0 1 164.68 360.3L175.45 357.64A254.5 254.5 0 0 0 177.02 363.66Z"/>
<path fill="#d0c4e4" d="M164.68 360.3A265.6 265.6 0 0 1 163.2 353.99L174.03 351.58A254.5 254.5 0 0 0 175.45 357.64Z"/>
<path fill="#b8a4d8" d="M163.2 353.99A265.6 265.6 0 0 1 162.23 349.45L173.11 347.24A254.5 254.5 0 0 0 174.03 351.58Z"/>
<path fill="#e4d8ec" d="M162.23 349.45A265.6 265.6 0 0 1 161.6 346.27L172.51 344.19A254.5 254.5 0 0 0 173.11 347.24Z"/>
<path fill="#d0c4e4" d="M161.6 346.27A265.6 265.6 0 0 1 160.94 342.62L171.87 340.69A254.5 254.5 0 0 0 172.51 344.19Z"/>
<path fill="#b8a4d8" d="M160.94 342.62A265.6 265.6 0 0 1 160.47 339.88L171.42 338.07A254.5 254.5 0 0 0 171.87 340.69Z"/>
<path fill="#d0c4e4" d="M160.47 339.88A265.6 265.6 0 0 1 160.03 337.13L171 335.43A254.5 254.5 0 0 0 171.42 338.07Z"/>
<path fill="#b8a4d8" d="M160.03 337.13A265.6 265.6 0 0 1 159.62 334.38L170.6 332.8A254.5 254.5 0 0 0 171 335.43Z"/>
<path fill="#d0c4e4" d="M159.62 334.38A265.6 265.6 0 0 1 159.11 330.71L170.12 329.28A254.5 254.5 0 0 0 170.6 332.8Z"/>
<path fill="#b8a4d8" d="M159.11 330.71A265.6 265.6 0 0 1 158.56 326.11L169.59 324.87A254.5 254.5 0 0 0 170.12 329.28Z"/>
<path fill="#ffffff" d="M158.56 326.11A265.6 265.6 0 0 1 158.21 322.88L169.26 321.78A254.5 254.5 0 0 0 169.59 324.87Z"/>
<path fill="#b8a4d8" d="M157.87 319.19A265.6 265.6 0 0 1 157.09 306.46L168.18 306.05A254.5 254.5 0 0 0 168.93 318.24Z"/>
<path fill="#e4d8ec" d="M156.9 295.57A265.6 265.6 0 0 1 157.34 281.21L168.42 281.85A254.5 254.5 0 0 0 168 295.61Z"/>
<path fill="#d0c4e4" d="M157.34 281.21A265.6 265.6 0 0 1 157.55 277.97L168.62 278.75A254.5 254.5 0 0 0 168.42 281.85Z"/>
<path fill="#ffffff" d="M157.55 277.97A265.6 265.6 0 0 1 157.77 274.97L168.84 275.87A254.5 254.5 0 0 0 168.62 278.75Z"/>
<path fill="#d0c4e4" d="M157.77 274.97A265.6 265.6 0 0 1 158.04 271.97L169.09 272.99A254.5 254.5 0 0 0 168.84 275.87Z"/>
<path fill="#b8a4d8" d="M158.04 271.97A265.6 265.6 0 0 1 158.35 268.74L169.39 269.9A254.5 254.5 0 0 0 169.09 272.99Z"/>
<path fill="#d0c4e4" d="M158.35 268.74A265.6 265.6 0 0 1 158.66 265.97L169.69 267.25A254.5 254.5 0 0 0 169.39 269.9Z"/>
<path fill="#b8a4d8" d="M158.66 265.97A265.6 265.6 0 0 1 159.11 262.29L170.12 263.72A254.5 254.5 0 0 0 169.69 267.25Z"/>
<path fill="#d0c4e4" d="M159.11 262.29A265.6 265.6 0 0 1 159.55 259.08L170.54 260.64A254.5 254.5 0 0 0 170.12 263.72Z"/>
<path fill="#ffffff" d="M159.55 259.08A265.6 265.6 0 0 1 159.96 256.33L170.93 258A254.5 254.5 0 0 0 170.54 260.64Z"/>
<path fill="#b8a4d8" d="M159.96 256.33A265.6 265.6 0 0 1 160.47 253.12L171.42 254.93A254.5 254.5 0 0 0 170.93 258Z"/>
<path fill="#d0c4e4" d="M160.47 253.12A265.6 265.6 0 0 1 160.85 250.84L171.79 252.74A254.5 254.5 0 0 0 171.42 254.93Z"/>
<path fill="#b8a4d8" d="M160.85 250.84A265.6 265.6 0 0 1 161.87 245.37L172.76 247.5A254.5 254.5 0 0 0 171.79 252.74Z"/>
<path fill="#d0c4e4" d="M161.87 245.37A265.6 265.6 0 0 1 162.61 241.73L173.47 244.02A254.5 254.5 0 0 0 172.76 247.5Z"/>
<path fill="#b8a4d8" d="M162.61 241.73A265.6 265.6 0 0 1 167.19 223.29L177.86 226.35A254.5 254.5 0 0 0 173.47 244.02Z"/>
<path fill="#d0c4e4" d="M167.19 223.29A265.6 265.6 0 0 1 168.24 219.73L178.86 222.94A254.5 254.5 0 0 0 177.86 226.35Z"/>
<path fill="#ffffff" d="M168.24 219.73A265.6 265.6 0 0 1 169.05 217.07L179.65 220.39A254.5 254.5 0 0 0 178.86 222.94Z"/>
<path fill="#b8a4d8" d="M169.05 217.07A265.6 265.6 0 0 1 171.22 210.47L181.72 214.06A254.5 254.5 0 0 0 179.65 220.39Z"/>
<path fill="#d0c4e4" d="M171.22 210.47A265.6 265.6 0 0 1 173.08 205.22L183.5 209.04A254.5 254.5 0 0 0 181.72 214.06Z"/>
<path fill="#e4d4ec" d="M182.32 159.51A276.5 276.5 0 0 1 672.68 414.23L662.73 409.54A265.5 265.5 0 0 0 191.88 164.96ZM673.9 411.6A276.5 276.5 0 0 1 162.84 201.48L173.17 205.26A265.5 265.5 0 0 0 663.9 407.02Z"/>
<path fill="#b4e0d8" d="M317.13 40.86A276.5 276.5 0 0 1 321.16 39.24L325.19 49.47A265.5 265.5 0 0 0 321.33 51.03Z"/>
<path fill="#ef7677" d="M337.06 33.53A276.5 276.5 0 0 1 343.97 31.39L347.09 41.93A265.5 265.5 0 0 0 340.46 43.99Z"/>
<path fill="#d4ccaa" d="M348.14 30.19A276.5 276.5 0 0 1 351.87 29.17L354.68 39.81A265.5 265.5 0 0 0 351.1 40.78Z"/>
<path fill="#d4ccaa" d="M376.39 23.87A276.5 276.5 0 0 1 380.2 23.25L381.88 34.13A265.5 265.5 0 0 0 378.22 34.72Z"/>
<path fill="#ef7677" d="M381.63 23.04A276.5 276.5 0 0 1 385.45 22.49L386.93 33.39A265.5 265.5 0 0 0 383.26 33.92Z"/>
<path fill="#d4ccaa" d="M417.19 20.05A276.5 276.5 0 0 1 420.33 20.01L420.41 31.01A265.5 265.5 0 0 0 417.4 31.05Z"/>
<path fill="#bcbcbc" d="M420.33 20.01A276.5 276.5 0 0 1 423.22 20L423.2 31A265.5 265.5 0 0 0 420.41 31.01Z"/>
<path fill="#d4ccaa" d="M426.12 20.02A276.5 276.5 0 0 1 429.26 20.08L428.99 31.08A265.5 265.5 0 0 0 425.98 31.02Z"/>
<path fill="#bcbcbc" d="M429.26 20.08A276.5 276.5 0 0 1 431.91 20.16L431.53 31.15A265.5 265.5 0 0 0 428.99 31.08Z"/>
<path fill="#d4ccaa" d="M431.91 20.16A276.5 276.5 0 0 1 434.8 20.27L434.31 31.26A265.5 265.5 0 0 0 431.53 31.15Z"/>
<path fill="#eeaaa0" d="M434.8 20.27A276.5 276.5 0 0 1 437.93 20.43L437.32 31.41A265.5 265.5 0 0 0 434.31 31.26Z"/>
<path fill="#bcbcbc" d="M437.93 20.43A276.5 276.5 0 0 1 440.82 20.61L440.1 31.58A265.5 265.5 0 0 0 437.32 31.41Z"/>
<path fill="#ef7677" d="M440.82 20.61A276.5 276.5 0 1 1 153.87 361.99L164.55 359.38A265.5 265.5 0 1 0 440.1 31.58Z"/>
<path fill="#e4d4ec" d="M539.35 45.91A276.5 276.5 0 0 1 541.97 47.14L537.22 57.06A265.5 265.5 0 0 0 534.71 55.88Z"/>
<path fill="#ef7677" d="M153.31 359.64A276.5 276.5 0 0 1 148 329.72L158.92 328.4A265.5 265.5 0 0 0 164.01 357.13Z"/>
<path fill="#bcbcbc" d="M147.72 327.32A276.5 276.5 0 0 1 147.42 324.44L158.36 323.33A265.5 265.5 0 0 0 158.65 326.1Z"/>
<path fill="#a8cce4" d="M146.49 312.9A276.5 276.5 0 0 1 146.31 309.52L157.29 309.01A265.5 265.5 0 0 0 157.47 312.25Z"/>
<path fill="#ef7677" d="M146 295.53A276.5 276.5 0 0 1 162.84 201.48L173.17 205.26A265.5 265.5 0 0 0 157 295.57Z"/>
<g class="ds">
<text x="188.33" y="164.08" transform="rotate(-60.3 188.33 164.08)" text-anchor="end">Country/Region</text>
<text x="197.88" y="169.53" transform="rotate(-60.3 197.88 169.53)" text-anchor="end">Separation year</text>
<text x="207.44" y="174.98" transform="rotate(-60.3 207.44 174.98)" text-anchor="end">KPC</text>
<text x="217.21" y="180.55" transform="rotate(-60.3 217.21 180.55)" text-anchor="end">Plasmid Type</text>
</g>
<rect x="22.5" y="34.4" width="97.5" height="109.35" fill="#fff" stroke="#eeeeee" stroke-width="0.8"/>
<text class="lt" x="26.3" y="46.7">Plasmid Type</text>
<path d="M24.4 52.8H118.5" stroke="#777" stroke-width="1"/>
<rect x="26.4" y="57.8" width="14.4" height="14.4" fill="#e0e4f8" stroke="#777" stroke-width="0.9"/>
<text class="li" x="48.5" y="68.4">Neither</text>
<rect x="26.4" y="79.55" width="14.4" height="14.4" fill="#aac2de" stroke="#777" stroke-width="0.9"/>
<text class="li" x="48.5" y="90.15">Type I</text>
<rect x="26.4" y="101.3" width="14.4" height="14.4" fill="#f4b0c0" stroke="#777" stroke-width="0.9"/>
<text class="li" x="48.5" y="111.9">Type II</text>
<rect x="26.4" y="123.05" width="14.4" height="14.4" fill="#a0f4a0" stroke="#777" stroke-width="0.9"/>
<text class="li" x="48.5" y="133.65">Type I, Type II</text>
<rect x="22.6" y="166.5" width="66.4" height="65.85" fill="#fff" stroke="#eeeeee" stroke-width="0.8"/>
<text class="lt" x="26.4" y="178.8">KPC</text>
<path d="M24.5 184.9H87.5" stroke="#777" stroke-width="1"/>
<rect x="26.5" y="189.9" width="14.4" height="14.4" fill="#cce8b0" stroke="#777" stroke-width="0.9"/>
<text class="li" x="48.6" y="200.5">existent</text>
<rect x="26.5" y="211.65" width="14.4" height="14.4" fill="#d3d3d3" stroke="#777" stroke-width="0.9"/>
<text class="li" x="48.6" y="222.25">absent</text>
<rect x="22.6" y="254" width="91.4" height="131.1" fill="#fff" stroke="#eeeeee" stroke-width="0.8"/>
<text class="lt" x="26.4" y="266.3">Separation year</text>
<path d="M24.5 272.4H112.5" stroke="#777" stroke-width="1"/>
<rect x="26.5" y="277.4" width="14.4" height="14.4" fill="#e4d8ec" stroke="#777" stroke-width="0.9"/>
<text class="li" x="48.6" y="288">before 2010</text>
<rect x="26.5" y="299.15" width="14.4" height="14.4" fill="#d0c4e4" stroke="#777" stroke-width="0.9"/>
<text class="li" x="48.6" y="309.75">2011-2015</text>
<rect x="26.5" y="320.9" width="14.4" height="14.4" fill="#b8a4d8" stroke="#777" stroke-width="0.9"/>
<text class="li" x="48.6" y="331.5">2016-2020</text>
<rect x="26.5" y="342.65" width="14.4" height="14.4" fill="#9c88cc" stroke="#777" stroke-width="0.9"/>
<text class="li" x="48.6" y="353.25">2021-2024</text>
<rect x="26.5" y="364.4" width="14.4" height="14.4" fill="#ffffff" stroke="#777" stroke-width="0.9"/>
<text class="li" x="48.6" y="375">Year missing</text>
<rect x="22.2" y="407.9" width="89.8" height="174.6" fill="#fff" stroke="#eeeeee" stroke-width="0.8"/>
<text class="lt" x="26" y="420.2">Country/Region</text>
<path d="M24.1 426.3H110.5" stroke="#777" stroke-width="1"/>
<rect x="26.1" y="431.3" width="14.4" height="14.4" fill="#ef7677" stroke="#777" stroke-width="0.9"/>
<text class="li" x="48.2" y="441.9">China</text>
<rect x="26.1" y="453.05" width="14.4" height="14.4" fill="#e4d4ec" stroke="#777" stroke-width="0.9"/>
<text class="li" x="48.2" y="463.65">USA</text>
<rect x="26.1" y="474.8" width="14.4" height="14.4" fill="#d4ccaa" stroke="#777" stroke-width="0.9"/>
<text class="li" x="48.2" y="485.4">Europe</text>
<rect x="26.1" y="496.55" width="14.4" height="14.4" fill="#b4e0d8" stroke="#777" stroke-width="0.9"/>
<text class="li" x="48.2" y="507.15">Israel</text>
<rect x="26.1" y="518.3" width="14.4" height="14.4" fill="#a8cce4" stroke="#777" stroke-width="0.9"/>
<text class="li" x="48.2" y="528.9">Nigeria</text>
<rect x="26.1" y="540.05" width="14.4" height="14.4" fill="#eeaaa0" stroke="#777" stroke-width="0.9"/>
<text class="li" x="48.2" y="550.65">Singapore</text>
<rect x="26.1" y="561.8" width="14.4" height="14.4" fill="#bcbcbc" stroke="#777" stroke-width="0.9"/>
<text class="li" x="48.2" y="572.4">Missing</text>
</svg>
</body></html>
